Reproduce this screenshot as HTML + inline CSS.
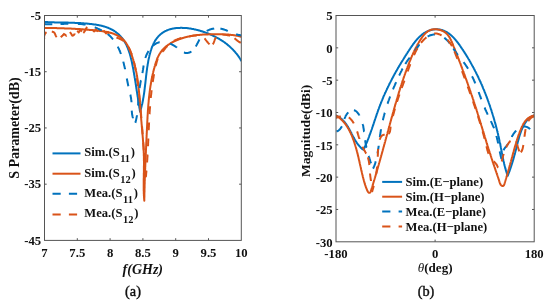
<!DOCTYPE html>
<html><head><meta charset="utf-8"><title>Figure</title>
<style>
html,body{margin:0;padding:0;background:#fff;}
body{width:550px;height:305px;overflow:hidden;}
svg{display:block;}
text{font-family:"Liberation Serif",serif;fill:#111;}
.t{font-weight:bold;font-size:12.7px;}
.l{font-weight:bold;font-size:14px;}
.g{font-weight:bold;font-size:12.6px;}
.s{font-weight:bold;font-size:10.4px;}
.c{font-size:14.3px;fill:#111;stroke:#111;stroke-width:0.4px;}
</style></head><body>
<svg width="550" height="305" viewBox="0 0 550 305">
<rect width="550" height="305" fill="#fff"/>

<clipPath id="cl"><rect x="44.5" y="15.5" width="196.8" height="224.9"/></clipPath>
<g clip-path="url(#cl)">
<path d="M44.5,22.0 L45.0,22.0 L45.5,22.0 L46.0,22.1 L46.5,22.1 L47.0,22.1 L47.5,22.1 L48.0,22.2 L48.5,22.2 L49.0,22.2 L49.6,22.2 L50.1,22.2 L50.6,22.2 L51.1,22.3 L51.6,22.3 L52.1,22.3 L52.6,22.3 L53.1,22.3 L53.6,22.3 L54.1,22.3 L54.6,22.4 L55.1,22.4 L55.6,22.4 L56.1,22.4 L56.6,22.4 L57.1,22.4 L57.6,22.4 L58.1,22.4 L58.6,22.4 L59.1,22.4 L59.6,22.5 L60.1,22.5 L60.6,22.5 L61.1,22.5 L61.6,22.5 L62.1,22.5 L62.6,22.5 L63.1,22.5 L63.6,22.5 L64.1,22.5 L64.6,22.6 L65.1,22.6 L65.6,22.6 L66.1,22.6 L66.5,22.6 L67.0,22.6 L67.5,22.6 L68.0,22.6 L68.5,22.7 L69.0,22.7 L69.5,22.7 L70.0,22.7 L70.5,22.7 L71.0,22.7 L71.5,22.7 L72.0,22.8 L72.5,22.8 L73.0,22.8 L73.5,22.8 L74.0,22.8 L74.5,22.8 L75.0,22.9 L75.5,22.9 L76.0,22.9 L76.5,22.9 L77.0,22.9 L77.5,23.0 L78.0,23.0 L78.5,23.0 L79.0,23.0 L79.5,23.1 L80.0,23.1 L80.5,23.1 L81.0,23.2 L81.5,23.2 L82.0,23.2 L82.5,23.3 L83.0,23.3 L83.6,23.3 L84.1,23.4 L84.6,23.4 L85.1,23.5 L85.6,23.5 L86.1,23.5 L86.6,23.6 L87.1,23.6 L87.6,23.7 L88.1,23.7 L88.6,23.8 L89.1,23.8 L89.6,23.9 L90.1,23.9 L90.6,24.0 L91.2,24.0 L91.7,24.1 L92.2,24.2 L92.7,24.2 L93.2,24.3 L93.7,24.4 L94.2,24.4 L94.7,24.5 L95.2,24.6 L95.7,24.6 L96.2,24.7 L96.8,24.8 L97.3,24.9 L97.8,25.0 L98.3,25.1 L98.8,25.2 L99.3,25.3 L99.8,25.4 L100.3,25.5 L100.8,25.6 L101.3,25.7 L101.8,25.8 L102.3,26.0 L102.7,26.1 L103.2,26.2 L103.7,26.4 L104.2,26.5 L104.7,26.6 L105.2,26.8 L105.7,26.9 L106.1,27.1 L106.6,27.3 L107.1,27.4 L107.5,27.6 L108.0,27.8 L108.5,28.0 L108.9,28.2 L109.4,28.4 L109.8,28.6 L110.3,28.8 L110.7,29.0 L111.2,29.2 L111.6,29.5 L112.1,29.7 L112.5,29.9 L112.9,30.2 L113.3,30.4 L113.8,30.7 L114.2,31.0 L114.6,31.2 L115.0,31.5 L115.4,31.8 L115.8,32.1 L116.2,32.4 L116.6,32.7 L117.0,33.0 L117.3,33.3 L117.7,33.6 L118.1,33.9 L118.5,34.3 L118.8,34.6 L119.2,34.9 L119.5,35.3 L119.9,35.6 L120.2,36.0 L120.6,36.3 L120.9,36.7 L121.2,37.1 L121.5,37.4 L121.9,37.8 L122.2,38.2 L122.5,38.6 L122.8,39.0 L123.1,39.4 L123.4,39.8 L123.6,40.2 L123.9,40.6 L124.2,41.0 L124.4,41.4 L124.7,41.9 L125.0,42.3 L125.2,42.7 L125.4,43.2 L125.7,43.6 L125.9,44.0 L126.1,44.5 L126.4,44.9 L126.6,45.4 L126.8,45.8 L127.0,46.3 L127.2,46.8 L127.4,47.2 L127.6,47.7 L127.8,48.2 L128.0,48.6 L128.1,49.1 L128.3,49.6 L128.5,50.1 L128.7,50.5 L128.8,51.0 L129.0,51.5 L129.1,52.0 L129.3,52.5 L129.5,52.9 L129.6,53.4 L129.8,53.9 L129.9,54.4 L130.0,54.9 L130.2,55.4 L130.3,55.9 L130.5,56.4 L130.6,56.9 L130.7,57.3 L130.8,57.8 L131.0,58.3 L131.1,58.8 L131.2,59.3 L131.3,59.8 L131.5,60.3 L131.6,60.8 L131.7,61.3 L131.8,61.8 L131.9,62.3 L132.0,62.8 L132.1,63.3 L132.2,63.8 L132.3,64.3 L132.4,64.8 L132.5,65.3 L132.6,65.8 L132.7,66.3 L132.8,66.7 L132.9,67.2 L133.0,67.7 L133.1,68.2 L133.2,68.7 L133.3,69.2 L133.4,69.7 L133.5,70.2 L133.5,70.7 L133.6,71.2 L133.7,71.7 L133.8,72.2 L133.9,72.7 L134.0,73.2 L134.1,73.7 L134.1,74.2 L134.2,74.7 L134.3,75.2 L134.4,75.7 L134.5,76.2 L134.6,76.7 L134.6,77.2 L134.7,77.7 L134.8,78.1 L134.9,78.6 L135.0,79.1 L135.0,79.6 L135.1,80.1 L135.2,80.6 L135.3,81.1 L135.4,81.6 L135.4,82.1 L135.5,82.6 L135.6,83.1 L135.7,83.6 L135.7,84.1 L135.8,84.6 L135.9,85.1 L136.0,85.5 L136.0,86.0 L136.1,86.5 L136.2,87.0 L136.3,87.5 L136.3,88.0 L136.4,88.5 L136.5,89.0 L136.6,89.5 L136.6,90.0 L136.7,90.5 L136.8,91.0 L136.9,91.5 L136.9,91.9 L137.0,92.4 L137.1,92.9 L137.2,93.4 L137.2,93.9 L137.3,94.4 L137.4,94.9 L137.5,95.4 L137.5,95.9 L137.6,96.4 L137.7,96.9 L137.8,97.4 L137.9,97.9 L137.9,98.4 L138.0,98.9 L138.1,99.4 L138.2,99.8 L138.2,100.3 L138.3,100.8 L138.4,101.3 L138.5,101.8 L138.5,102.3 L138.6,102.8 L138.7,103.3 L138.8,103.8 L138.9,104.3 L138.9,104.8 L139.0,105.3 L139.1,105.8 L139.2,106.3 L139.3,106.8 L139.3,107.3 L139.4,107.8 L139.5,108.3 L139.6,108.8 L139.7,109.3 L139.8,109.8 L139.8,110.3 L139.9,110.8 L140.0,111.3 L140.1,111.8 L140.3,111.3 L140.4,110.8 L140.5,110.3 L140.7,109.8 L140.8,109.3 L141.0,108.9 L141.1,108.4 L141.2,107.9 L141.3,107.4 L141.5,106.9 L141.6,106.4 L141.7,105.9 L141.8,105.4 L141.9,104.9 L142.1,104.4 L142.2,104.0 L142.3,103.5 L142.4,103.0 L142.5,102.5 L142.6,102.0 L142.7,101.5 L142.8,101.0 L142.9,100.5 L143.0,100.0 L143.1,99.5 L143.1,99.1 L143.2,98.6 L143.3,98.1 L143.4,97.6 L143.5,97.1 L143.6,96.6 L143.6,96.1 L143.7,95.6 L143.8,95.1 L143.9,94.6 L143.9,94.2 L144.0,93.7 L144.1,93.2 L144.2,92.7 L144.2,92.2 L144.3,91.7 L144.4,91.2 L144.4,90.7 L144.5,90.2 L144.5,89.7 L144.6,89.2 L144.7,88.7 L144.7,88.3 L144.8,87.8 L144.8,87.3 L144.9,86.8 L145.0,86.3 L145.0,85.8 L145.1,85.3 L145.1,84.8 L145.2,84.3 L145.3,83.8 L145.3,83.3 L145.4,82.8 L145.4,82.3 L145.5,81.9 L145.5,81.4 L145.6,80.9 L145.6,80.4 L145.7,79.9 L145.8,79.4 L145.8,78.9 L145.9,78.4 L145.9,77.9 L146.0,77.4 L146.0,76.9 L146.1,76.4 L146.1,75.9 L146.2,75.4 L146.3,74.9 L146.3,74.4 L146.4,73.9 L146.4,73.4 L146.5,72.9 L146.6,72.4 L146.6,71.9 L146.7,71.4 L146.8,70.9 L146.8,70.4 L146.9,69.9 L147.0,69.4 L147.0,68.9 L147.1,68.4 L147.2,67.9 L147.2,67.4 L147.3,66.9 L147.4,66.4 L147.5,65.9 L147.6,65.4 L147.6,64.9 L147.7,64.4 L147.8,63.9 L147.9,63.4 L148.0,62.9 L148.1,62.4 L148.2,61.9 L148.2,61.4 L148.3,60.9 L148.4,60.4 L148.5,59.9 L148.6,59.4 L148.7,58.9 L148.8,58.4 L149.0,57.9 L149.1,57.4 L149.2,56.9 L149.3,56.3 L149.4,55.8 L149.5,55.3 L149.6,54.8 L149.8,54.3 L149.9,53.8 L150.0,53.3 L150.2,52.8 L150.3,52.3 L150.5,51.8 L150.6,51.3 L150.7,50.8 L150.9,50.3 L151.1,49.8 L151.2,49.4 L151.4,48.9 L151.6,48.4 L151.7,47.9 L151.9,47.4 L152.1,46.9 L152.3,46.5 L152.5,46.0 L152.7,45.5 L152.9,45.1 L153.1,44.6 L153.3,44.1 L153.5,43.7 L153.7,43.2 L154.0,42.8 L154.2,42.4 L154.4,41.9 L154.7,41.5 L154.9,41.1 L155.2,40.6 L155.5,40.2 L155.7,39.8 L156.0,39.4 L156.3,39.0 L156.6,38.6 L156.9,38.2 L157.2,37.8 L157.5,37.4 L157.8,37.1 L158.1,36.7 L158.4,36.3 L158.8,36.0 L159.1,35.6 L159.5,35.3 L159.8,35.0 L160.2,34.6 L160.5,34.3 L160.9,34.0 L161.3,33.7 L161.7,33.4 L162.1,33.1 L162.5,32.8 L162.9,32.5 L163.3,32.3 L163.7,32.0 L164.1,31.8 L164.5,31.5 L164.9,31.3 L165.4,31.1 L165.8,30.9 L166.3,30.7 L166.7,30.5 L167.2,30.3 L167.6,30.1 L168.1,29.9 L168.5,29.8 L169.0,29.6 L169.5,29.4 L169.9,29.3 L170.4,29.2 L170.9,29.0 L171.4,28.9 L171.9,28.8 L172.4,28.7 L172.9,28.6 L173.4,28.5 L173.9,28.4 L174.4,28.3 L174.9,28.3 L175.4,28.2 L175.9,28.1 L176.4,28.1 L176.9,28.0 L177.4,28.0 L177.9,27.9 L178.4,27.9 L178.9,27.9 L179.4,27.9 L180.0,27.9 L180.5,27.8 L181.0,27.8 L181.5,27.8 L182.0,27.8 L182.5,27.9 L183.0,27.9 L183.5,27.9 L184.0,27.9 L184.6,27.9 L185.1,28.0 L185.6,28.0 L186.1,28.0 L186.6,28.1 L187.1,28.1 L187.6,28.2 L188.1,28.3 L188.6,28.3 L189.1,28.4 L189.6,28.5 L190.1,28.5 L190.6,28.6 L191.1,28.7 L191.6,28.8 L192.1,28.9 L192.6,29.0 L193.1,29.0 L193.6,29.1 L194.1,29.3 L194.6,29.4 L195.1,29.5 L195.6,29.6 L196.1,29.7 L196.5,29.8 L197.0,29.9 L197.5,30.1 L198.0,30.2 L198.5,30.3 L199.0,30.5 L199.5,30.6 L200.0,30.7 L200.4,30.9 L200.9,31.0 L201.4,31.2 L201.9,31.3 L202.4,31.5 L202.9,31.6 L203.3,31.8 L203.8,32.0 L204.3,32.1 L204.8,32.3 L205.3,32.5 L205.7,32.6 L206.2,32.8 L206.7,33.0 L207.1,33.2 L207.6,33.3 L208.1,33.5 L208.6,33.7 L209.0,33.9 L209.5,34.1 L210.0,34.3 L210.4,34.5 L210.9,34.7 L211.3,34.9 L211.8,35.1 L212.3,35.3 L212.7,35.5 L213.2,35.7 L213.6,36.0 L214.1,36.2 L214.5,36.4 L215.0,36.6 L215.4,36.9 L215.9,37.1 L216.3,37.3 L216.8,37.6 L217.2,37.8 L217.6,38.0 L218.1,38.3 L218.5,38.5 L218.9,38.8 L219.4,39.0 L219.8,39.3 L220.2,39.6 L220.6,39.8 L221.1,40.1 L221.5,40.4 L221.9,40.6 L222.3,40.9 L222.7,41.2 L223.2,41.5 L223.6,41.7 L224.0,42.0 L224.4,42.3 L224.8,42.6 L225.2,42.9 L225.6,43.2 L226.0,43.5 L226.4,43.8 L226.8,44.1 L227.2,44.4 L227.6,44.7 L227.9,45.1 L228.3,45.4 L228.7,45.7 L229.1,46.0 L229.5,46.3 L229.8,46.7 L230.2,47.0 L230.6,47.4 L230.9,47.7 L231.3,48.0 L231.6,48.4 L232.0,48.7 L232.4,49.1 L232.7,49.4 L233.1,49.8 L233.4,50.2 L233.7,50.5 L234.1,50.9 L234.4,51.3 L234.7,51.6 L235.1,52.0 L235.4,52.4 L235.7,52.8 L236.0,53.2 L236.4,53.5 L236.7,53.9 L237.0,54.3 L237.3,54.7 L237.6,55.1 L237.9,55.5 L238.2,55.9 L238.5,56.4 L238.8,56.8 L239.1,57.2 L239.4,57.6 L239.6,58.0 L239.9,58.5 L240.2,58.9 L240.5,59.3 L240.7,59.8 L241.0,60.2 L241.2,60.7 L241.5,61.1" fill="none" stroke="#0072BD" stroke-width="2.0" stroke-linejoin="round"/>
<path d="M44.5,28.0 L45.0,28.0 L45.5,28.0 L46.0,28.0 L46.5,28.0 L47.0,28.0 L47.5,28.0 L48.1,28.0 L48.6,28.0 L49.1,28.0 L49.6,28.0 L50.1,28.0 L50.6,28.0 L51.1,28.1 L51.6,28.1 L52.1,28.1 L52.6,28.1 L53.1,28.1 L53.6,28.1 L54.1,28.1 L54.6,28.1 L55.1,28.1 L55.6,28.1 L56.1,28.1 L56.6,28.1 L57.1,28.2 L57.6,28.2 L58.1,28.2 L58.6,28.2 L59.1,28.2 L59.6,28.2 L60.1,28.2 L60.6,28.2 L61.1,28.3 L61.6,28.3 L62.1,28.3 L62.6,28.3 L63.1,28.3 L63.6,28.3 L64.1,28.3 L64.6,28.4 L65.1,28.4 L65.6,28.4 L66.1,28.4 L66.6,28.4 L67.1,28.5 L67.6,28.5 L68.1,28.5 L68.6,28.5 L69.1,28.5 L69.6,28.6 L70.1,28.6 L70.6,28.6 L71.1,28.6 L71.6,28.7 L72.1,28.7 L72.6,28.7 L73.1,28.7 L73.6,28.7 L74.1,28.8 L74.6,28.8 L75.1,28.8 L75.6,28.9 L76.1,28.9 L76.6,28.9 L77.1,28.9 L77.5,29.0 L78.0,29.0 L78.5,29.0 L79.0,29.1 L79.5,29.1 L80.0,29.1 L80.5,29.2 L81.0,29.2 L81.5,29.2 L82.0,29.3 L82.5,29.3 L83.0,29.3 L83.5,29.4 L84.0,29.4 L84.5,29.5 L85.0,29.5 L85.5,29.5 L86.0,29.6 L86.5,29.6 L87.0,29.7 L87.5,29.7 L88.0,29.7 L88.5,29.8 L89.0,29.8 L89.5,29.9 L90.0,29.9 L90.5,30.0 L91.0,30.0 L91.5,30.0 L92.0,30.1 L92.5,30.1 L93.0,30.2 L93.5,30.2 L94.0,30.3 L94.5,30.3 L95.0,30.4 L95.5,30.4 L96.0,30.5 L96.5,30.6 L97.0,30.6 L97.5,30.7 L98.1,30.7 L98.6,30.8 L99.1,30.8 L99.6,30.9 L100.1,30.9 L100.6,31.0 L101.1,31.1 L101.6,31.1 L102.1,31.2 L102.6,31.3 L103.1,31.3 L103.6,31.4 L104.1,31.5 L104.6,31.6 L105.1,31.7 L105.6,31.7 L106.1,31.8 L106.6,31.9 L107.1,32.0 L107.6,32.1 L108.1,32.2 L108.6,32.3 L109.1,32.4 L109.6,32.6 L110.1,32.7 L110.5,32.8 L111.0,33.0 L111.5,33.1 L112.0,33.2 L112.5,33.4 L112.9,33.6 L113.4,33.7 L113.9,33.9 L114.4,34.1 L114.8,34.3 L115.3,34.5 L115.7,34.7 L116.2,34.9 L116.6,35.1 L117.1,35.3 L117.5,35.5 L118.0,35.8 L118.4,36.0 L118.8,36.3 L119.3,36.5 L119.7,36.8 L120.1,37.1 L120.5,37.4 L120.9,37.7 L121.3,38.0 L121.7,38.3 L122.1,38.6 L122.5,38.9 L122.8,39.3 L123.2,39.6 L123.5,39.9 L123.9,40.3 L124.2,40.7 L124.5,41.0 L124.9,41.4 L125.2,41.8 L125.5,42.2 L125.7,42.6 L126.0,43.0 L126.3,43.4 L126.6,43.8 L126.8,44.2 L127.1,44.7 L127.3,45.1 L127.6,45.5 L127.8,46.0 L128.1,46.4 L128.3,46.9 L128.5,47.3 L128.7,47.8 L128.9,48.2 L129.1,48.7 L129.3,49.2 L129.5,49.6 L129.7,50.1 L129.9,50.6 L130.1,51.0 L130.3,51.5 L130.5,52.0 L130.7,52.4 L130.9,52.9 L131.0,53.4 L131.2,53.8 L131.4,54.3 L131.6,54.8 L131.7,55.3 L131.9,55.7 L132.1,56.2 L132.2,56.7 L132.4,57.1 L132.6,57.6 L132.7,58.1 L132.9,58.6 L133.0,59.0 L133.2,59.5 L133.3,60.0 L133.4,60.5 L133.6,61.0 L133.7,61.4 L133.9,61.9 L134.0,62.4 L134.1,62.9 L134.3,63.4 L134.4,63.8 L134.5,64.3 L134.6,64.8 L134.8,65.3 L134.9,65.8 L135.0,66.3 L135.1,66.8 L135.2,67.2 L135.3,67.7 L135.5,68.2 L135.6,68.7 L135.7,69.2 L135.8,69.7 L135.9,70.2 L136.0,70.7 L136.1,71.1 L136.2,71.6 L136.3,72.1 L136.4,72.6 L136.5,73.1 L136.6,73.6 L136.7,74.1 L136.7,74.6 L136.8,75.1 L136.9,75.6 L137.0,76.1 L137.1,76.5 L137.2,77.0 L137.2,77.5 L137.3,78.0 L137.4,78.5 L137.5,79.0 L137.5,79.5 L137.6,80.0 L137.7,80.5 L137.8,81.0 L137.8,81.5 L137.9,82.0 L138.0,82.5 L138.0,83.0 L138.1,83.5 L138.2,84.0 L138.2,84.5 L138.3,85.0 L138.3,85.5 L138.4,86.0 L138.5,86.5 L138.5,87.0 L138.6,87.5 L138.6,88.0 L138.7,88.5 L138.7,89.0 L138.8,89.5 L138.8,90.0 L138.9,90.5 L138.9,91.0 L139.0,91.5 L139.0,92.0 L139.1,92.5 L139.1,93.0 L139.2,93.5 L139.2,94.0 L139.3,94.5 L139.3,95.0 L139.4,95.5 L139.4,96.0 L139.5,96.5 L139.5,97.0 L139.5,97.5 L139.6,98.0 L139.6,98.5 L139.7,99.0 L139.7,99.5 L139.7,100.0 L139.8,100.5 L139.8,101.0 L139.9,101.5 L139.9,102.0 L139.9,102.5 L140.0,103.0 L140.0,103.5 L140.0,104.1 L140.1,104.6 L140.1,105.1 L140.2,105.6 L140.2,106.1 L140.2,106.6 L140.3,107.1 L140.3,107.6 L140.3,108.1 L140.4,108.6 L140.4,109.1 L140.5,109.6 L140.5,110.1 L140.5,110.6 L140.6,111.1 L140.6,111.6 L140.6,112.1 L140.7,112.6 L140.7,113.1 L140.8,113.6 L140.8,114.1 L140.8,114.6 L140.9,115.1 L140.9,115.6 L141.0,116.1 L141.0,116.6 L141.0,117.1 L141.1,117.6 L141.1,118.1 L141.2,118.6 L141.2,119.1 L141.2,119.6 L141.3,120.1 L141.3,120.6 L141.4,121.1 L141.4,121.6 L141.5,122.1 L141.5,122.6 L141.5,123.1 L141.6,123.6 L141.6,124.1 L141.7,124.6 L141.7,125.1 L141.8,125.6 L141.8,126.1 L141.8,126.6 L141.9,127.1 L141.9,127.6 L142.0,128.1 L142.0,128.6 L142.1,129.1 L142.1,129.6 L142.2,130.1 L142.2,130.6 L142.2,131.1 L142.3,131.6 L142.3,132.1 L142.4,132.6 L142.4,133.1 L142.5,133.6 L142.5,134.1 L142.5,134.6 L142.6,135.1 L142.6,135.6 L142.7,136.0 L142.7,136.5 L142.7,137.0 L142.8,137.5 L142.8,138.0 L142.9,138.5 L142.9,139.0 L142.9,139.5 L143.0,140.0 L143.0,140.5 L143.0,141.0 L143.1,141.5 L143.1,142.0 L143.2,142.5 L143.2,143.0 L143.2,143.5 L143.3,144.0 L143.3,144.5 L143.3,145.0 L143.4,145.5 L143.4,146.0 L143.4,146.5 L143.5,147.0 L143.5,147.5 L143.5,148.0 L143.5,148.5 L143.6,149.0 L143.6,149.5 L143.6,150.0 L143.6,150.5 L143.7,151.0 L143.7,151.5 L143.7,152.0 L143.7,152.5 L143.8,153.0 L143.8,153.5 L143.8,154.0 L143.8,154.5 L143.8,155.0 L143.8,155.5 L143.9,156.0 L143.9,156.5 L143.9,157.0 L143.9,157.5 L143.9,158.0 L143.9,158.5 L143.9,159.0 L143.9,159.5 L143.9,160.0 L143.9,160.5 L144.0,161.0 L144.0,161.5 L144.0,162.0 L144.0,162.5 L144.0,163.0 L144.0,163.5 L144.0,164.0 L144.0,164.5 L144.0,165.0 L144.0,165.5 L143.9,166.0 L143.9,166.5 L143.9,167.0 L143.9,167.5 L143.9,168.0 L143.9,168.5 L143.9,169.1 L143.9,169.6 L143.9,170.1 L143.9,170.6 L143.9,171.1 L143.9,171.6 L143.9,172.1 L143.9,172.6 L143.8,173.1 L143.8,173.6 L143.8,174.1 L143.8,174.6 L143.8,175.1 L143.8,175.6 L143.8,176.1 L143.8,176.6 L143.8,177.1 L143.8,177.6 L143.8,178.1 L143.7,178.6 L143.7,179.1 L143.7,179.6 L143.7,180.2 L143.7,180.7 L143.7,181.2 L143.7,181.7 L143.7,182.2 L143.7,182.7 L143.7,183.2 L143.7,183.7 L143.7,184.2 L143.7,184.7 L143.7,185.2 L143.7,185.7 L143.7,186.2 L143.7,186.7 L143.7,187.2 L143.7,187.7 L143.7,188.2 L143.7,188.7 L143.7,189.2 L143.7,189.7 L143.7,190.2 L143.7,190.7 L143.8,191.2 L143.8,191.7 L143.8,192.2 L143.8,192.7 L143.8,193.2 L143.8,193.7 L143.9,194.2 L143.9,194.7 L143.9,195.2 L143.9,195.7 L144.0,196.2 L144.0,196.7 L144.0,197.2 L144.1,197.7 L144.1,198.2 L144.1,198.7 L144.2,199.2 L144.2,199.7 L144.3,200.2 L144.3,200.7 L144.3,200.2 L144.3,199.7 L144.3,199.2 L144.3,198.7 L144.3,198.2 L144.3,197.7 L144.4,197.2 L144.4,196.7 L144.4,196.2 L144.4,195.7 L144.4,195.2 L144.4,194.7 L144.4,194.2 L144.4,193.6 L144.4,193.1 L144.4,192.6 L144.5,192.1 L144.5,191.6 L144.5,191.1 L144.5,190.6 L144.5,190.1 L144.5,189.6 L144.5,189.1 L144.5,188.6 L144.6,188.1 L144.6,187.6 L144.6,187.1 L144.6,186.6 L144.6,186.1 L144.6,185.6 L144.6,185.1 L144.6,184.6 L144.7,184.1 L144.7,183.6 L144.7,183.1 L144.7,182.6 L144.7,182.1 L144.7,181.6 L144.7,181.1 L144.8,180.6 L144.8,180.1 L144.8,179.6 L144.8,179.1 L144.8,178.6 L144.8,178.1 L144.9,177.6 L144.9,177.1 L144.9,176.6 L144.9,176.1 L144.9,175.6 L144.9,175.1 L145.0,174.6 L145.0,174.1 L145.0,173.6 L145.0,173.1 L145.0,172.6 L145.1,172.1 L145.1,171.6 L145.1,171.1 L145.1,170.6 L145.1,170.1 L145.1,169.6 L145.2,169.1 L145.2,168.6 L145.2,168.1 L145.2,167.6 L145.2,167.1 L145.3,166.6 L145.3,166.1 L145.3,165.6 L145.3,165.1 L145.3,164.6 L145.4,164.1 L145.4,163.6 L145.4,163.1 L145.4,162.6 L145.4,162.1 L145.5,161.6 L145.5,161.1 L145.5,160.6 L145.5,160.1 L145.5,159.6 L145.6,159.1 L145.6,158.6 L145.6,158.1 L145.6,157.6 L145.7,157.1 L145.7,156.6 L145.7,156.1 L145.7,155.6 L145.7,155.1 L145.8,154.6 L145.8,154.1 L145.8,153.6 L145.8,153.1 L145.9,152.6 L145.9,152.1 L145.9,151.6 L145.9,151.1 L145.9,150.6 L146.0,150.1 L146.0,149.6 L146.0,149.1 L146.0,148.6 L146.1,148.1 L146.1,147.6 L146.1,147.1 L146.1,146.6 L146.1,146.1 L146.2,145.6 L146.2,145.1 L146.2,144.6 L146.2,144.0 L146.3,143.5 L146.3,143.0 L146.3,142.5 L146.3,142.0 L146.4,141.5 L146.4,141.0 L146.4,140.5 L146.4,140.0 L146.5,139.5 L146.5,139.0 L146.5,138.5 L146.5,138.0 L146.5,137.5 L146.6,137.0 L146.6,136.5 L146.6,136.0 L146.6,135.5 L146.7,135.0 L146.7,134.5 L146.7,134.0 L146.7,133.5 L146.8,133.0 L146.8,132.5 L146.8,132.0 L146.8,131.5 L146.9,131.0 L146.9,130.5 L146.9,130.0 L146.9,129.5 L146.9,129.0 L147.0,128.5 L147.0,128.0 L147.0,127.5 L147.0,127.0 L147.1,126.5 L147.1,126.0 L147.1,125.5 L147.1,125.0 L147.2,124.5 L147.2,124.0 L147.2,123.5 L147.2,123.0 L147.3,122.5 L147.3,122.0 L147.3,121.5 L147.3,121.0 L147.4,120.5 L147.4,120.0 L147.4,119.5 L147.4,119.0 L147.5,118.5 L147.5,117.9 L147.5,117.4 L147.5,116.9 L147.6,116.4 L147.6,115.9 L147.6,115.4 L147.7,114.9 L147.7,114.4 L147.7,113.9 L147.8,113.4 L147.8,112.9 L147.8,112.4 L147.8,111.9 L147.9,111.4 L147.9,110.9 L147.9,110.4 L148.0,109.9 L148.0,109.4 L148.0,108.9 L148.1,108.4 L148.1,107.9 L148.2,107.4 L148.2,106.9 L148.2,106.4 L148.3,105.9 L148.3,105.4 L148.3,104.9 L148.4,104.4 L148.4,103.9 L148.5,103.4 L148.5,102.9 L148.6,102.4 L148.6,101.9 L148.7,101.4 L148.7,100.9 L148.7,100.4 L148.8,99.9 L148.8,99.4 L148.9,98.9 L148.9,98.4 L149.0,97.9 L149.0,97.4 L149.1,96.9 L149.1,96.4 L149.2,95.9 L149.3,95.4 L149.3,94.9 L149.4,94.4 L149.4,93.9 L149.5,93.4 L149.6,92.9 L149.6,92.4 L149.7,91.9 L149.7,91.4 L149.8,90.9 L149.9,90.4 L149.9,89.9 L150.0,89.4 L150.1,88.9 L150.1,88.4 L150.2,87.9 L150.3,87.4 L150.4,86.9 L150.4,86.4 L150.5,85.9 L150.6,85.4 L150.7,84.9 L150.8,84.5 L150.8,84.0 L150.9,83.5 L151.0,83.0 L151.1,82.5 L151.2,82.0 L151.3,81.5 L151.3,81.0 L151.4,80.5 L151.5,80.0 L151.6,79.5 L151.7,79.0 L151.8,78.5 L151.9,78.0 L152.0,77.5 L152.1,77.1 L152.2,76.6 L152.3,76.1 L152.4,75.6 L152.5,75.1 L152.6,74.6 L152.7,74.1 L152.9,73.6 L153.0,73.1 L153.1,72.6 L153.2,72.2 L153.3,71.7 L153.4,71.2 L153.6,70.7 L153.7,70.2 L153.8,69.7 L153.9,69.2 L154.1,68.8 L154.2,68.3 L154.3,67.8 L154.5,67.3 L154.6,66.8 L154.7,66.3 L154.9,65.8 L155.0,65.4 L155.1,64.9 L155.3,64.4 L155.4,63.9 L155.6,63.4 L155.7,62.9 L155.9,62.5 L156.0,62.0 L156.2,61.5 L156.4,61.0 L156.5,60.6 L156.7,60.1 L156.9,59.6 L157.1,59.2 L157.2,58.7 L157.4,58.2 L157.6,57.8 L157.8,57.3 L158.0,56.9 L158.2,56.4 L158.5,56.0 L158.7,55.5 L158.9,55.1 L159.1,54.7 L159.4,54.2 L159.6,53.8 L159.9,53.4 L160.2,53.0 L160.4,52.6 L160.7,52.2 L161.0,51.8 L161.3,51.4 L161.6,51.0 L161.9,50.6 L162.2,50.2 L162.5,49.8 L162.9,49.5 L163.2,49.1 L163.5,48.8 L163.9,48.4 L164.2,48.1 L164.6,47.7 L165.0,47.4 L165.4,47.1 L165.7,46.7 L166.1,46.4 L166.5,46.1 L166.9,45.8 L167.3,45.5 L167.7,45.2 L168.1,44.9 L168.5,44.6 L169.0,44.3 L169.4,44.1 L169.8,43.8 L170.2,43.5 L170.7,43.2 L171.1,43.0 L171.6,42.7 L172.0,42.5 L172.4,42.2 L172.9,42.0 L173.4,41.8 L173.8,41.5 L174.3,41.3 L174.7,41.1 L175.2,40.9 L175.7,40.7 L176.1,40.5 L176.6,40.3 L177.1,40.1 L177.5,39.9 L178.0,39.7 L178.5,39.5 L179.0,39.3 L179.4,39.1 L179.9,39.0 L180.4,38.8 L180.9,38.6 L181.4,38.5 L181.8,38.3 L182.3,38.2 L182.8,38.0 L183.3,37.9 L183.8,37.7 L184.3,37.6 L184.7,37.4 L185.2,37.3 L185.7,37.2 L186.2,37.1 L186.7,36.9 L187.2,36.8 L187.7,36.7 L188.2,36.6 L188.6,36.5 L189.1,36.4 L189.6,36.3 L190.1,36.2 L190.6,36.1 L191.1,36.0 L191.6,35.9 L192.1,35.8 L192.6,35.7 L193.1,35.7 L193.6,35.6 L194.1,35.5 L194.6,35.4 L195.1,35.4 L195.6,35.3 L196.0,35.2 L196.5,35.2 L197.0,35.1 L197.5,35.1 L198.0,35.0 L198.5,35.0 L199.0,34.9 L199.5,34.9 L200.0,34.8 L200.5,34.8 L201.0,34.7 L201.5,34.7 L202.0,34.7 L202.5,34.6 L203.0,34.6 L203.5,34.6 L204.0,34.5 L204.5,34.5 L205.0,34.5 L205.6,34.4 L206.1,34.4 L206.6,34.4 L207.1,34.4 L207.6,34.4 L208.1,34.4 L208.6,34.3 L209.1,34.3 L209.6,34.3 L210.1,34.3 L210.6,34.3 L211.1,34.3 L211.6,34.3 L212.1,34.3 L212.6,34.3 L213.1,34.3 L213.6,34.3 L214.1,34.3 L214.6,34.3 L215.1,34.3 L215.6,34.3 L216.1,34.3 L216.6,34.3 L217.1,34.3 L217.6,34.3 L218.1,34.3 L218.6,34.3 L219.1,34.3 L219.6,34.3 L220.1,34.3 L220.6,34.3 L221.1,34.3 L221.6,34.3 L222.1,34.3 L222.6,34.3 L223.1,34.4 L223.6,34.4 L224.1,34.4 L224.6,34.4 L225.1,34.4 L225.6,34.5 L226.1,34.5 L226.6,34.5 L227.1,34.5 L227.6,34.6 L228.1,34.6 L228.6,34.6 L229.1,34.7 L229.6,34.7 L230.1,34.8 L230.6,34.8 L231.1,34.9 L231.6,34.9 L232.1,35.0 L232.6,35.0 L233.1,35.1 L233.6,35.2 L234.1,35.2 L234.6,35.3 L235.1,35.4 L235.6,35.5 L236.1,35.6 L236.6,35.7 L237.1,35.7 L237.6,35.8 L238.1,35.9 L238.6,36.1 L239.0,36.2 L239.5,36.3 L240.0,36.4 L240.5,36.5 L241.0,36.7 L241.5,36.8" fill="none" stroke="#D95319" stroke-width="2.0" stroke-linejoin="round"/>
<path d="M44.5,24.1 L45.0,24.1 L45.5,24.2 L46.0,24.2 L46.5,24.2 L47.0,24.2 L47.5,24.2 L48.0,24.3 L48.5,24.3 L49.0,24.3 L49.5,24.3 L49.9,24.3 L50.4,24.3 L50.9,24.3 L51.4,24.3 L51.9,24.3 L52.3,24.3M60.5,24.0 L61.0,24.0 L61.5,24.0 L62.0,23.9 L62.5,23.9 L63.1,23.9 L63.6,23.9 L64.1,23.8 L64.6,23.8 L65.1,23.8 L65.6,23.8 L66.1,23.8 L66.6,23.7 L67.1,23.7 L67.6,23.7 L68.1,23.7 L68.3,23.7M77.8,23.8 L78.2,23.8 L78.7,23.9 L79.2,23.9 L79.7,23.9 L80.2,24.0 L80.7,24.0 L81.2,24.1 L81.7,24.1 L82.1,24.2 L82.6,24.2 L83.1,24.3 L83.6,24.4 L84.1,24.5 L84.6,24.5 L85.1,24.6 L85.5,24.7M94.7,27.4 L95.1,27.5 L95.6,27.7 L96.1,27.9 L96.5,28.1 L97.0,28.3 L97.5,28.5 L97.9,28.7 L98.4,28.9 L98.8,29.1 L99.3,29.3 L99.8,29.5 L100.2,29.7 L100.7,29.9 L101.2,30.1 L101.6,30.3 L101.8,30.4M107.6,33.9 L108.0,34.2 L108.4,34.6 L108.8,34.9 L109.2,35.2 L109.5,35.6 L109.9,35.9 L110.3,36.3 L110.6,36.6 L111.0,37.0 L111.3,37.4 L111.6,37.7 L112.0,38.1 L112.3,38.5 L112.6,38.9 L113.0,39.3 L113.1,39.4M117.8,46.7 L118.0,47.2 L118.3,47.6 L118.5,48.1 L118.7,48.5 L118.9,49.0 L119.1,49.4 L119.3,49.9 L119.5,50.3 L119.7,50.8 L119.9,51.2 L120.1,51.7 L120.3,52.1 L120.4,52.6 L120.6,53.1 L120.8,53.5 L120.9,53.9M123.3,61.6 L123.4,62.1 L123.5,62.6 L123.7,63.1 L123.8,63.6 L123.9,64.1 L124.0,64.6 L124.1,65.1 L124.2,65.6 L124.4,66.1 L124.5,66.6 L124.6,67.1 L124.7,67.6 L124.8,68.1 L124.9,68.6 L125.0,69.0 L125.0,69.2M126.8,78.5 L126.9,79.0 L127.0,79.5 L127.1,80.0 L127.2,80.5 L127.3,81.0 L127.4,81.5 L127.5,82.0 L127.6,82.5 L127.7,83.0 L127.8,83.5 L127.9,84.0 L128.0,84.5 L128.1,85.0 L128.2,85.5 L128.3,85.9 L128.4,86.2M130.3,94.6 L130.5,95.1 L130.6,95.6 L130.6,96.1 L130.7,96.5 L130.8,97.0 L130.9,97.5 L131.0,98.0 L131.1,98.5 L131.1,99.0 L131.2,99.5 L131.3,99.9 L131.3,100.4 L131.4,100.9 L131.4,101.4 L131.5,101.9 L131.5,102.3M131.7,110.6 L131.8,111.1 L131.8,111.6 L131.9,112.1 L131.9,112.6 L132.0,113.2 L132.0,113.7 L132.1,114.2 L132.2,114.7 L132.3,115.2 L132.4,115.7 L132.5,116.2 L132.6,116.7 L132.7,117.1 L132.8,117.6 L133.0,118.1 L133.0,118.3M135.3,122.8 L135.5,122.3 L135.6,121.8 L135.7,121.3 L135.9,120.9 L136.0,120.4 L136.1,119.9 L136.2,119.4 L136.3,118.9 L136.4,118.4 L136.5,117.9 L136.6,117.4 L136.7,116.9 L136.8,116.4 L136.9,115.9 L137.0,115.4 L137.0,115.2M138.1,105.5 L138.1,105.0 L138.1,104.5 L138.2,104.0 L138.2,103.5 L138.2,103.0 L138.3,102.5 L138.3,102.0 L138.3,101.5 L138.4,101.0 L138.4,100.5 L138.4,100.0 L138.5,99.5 L138.5,99.0 L138.5,98.5 L138.6,98.0 L138.6,97.7M139.6,88.0 L139.7,87.5 L139.7,87.0 L139.8,86.5 L139.9,86.0 L140.0,85.5 L140.1,85.0 L140.2,84.5 L140.3,84.0 L140.3,83.5 L140.4,83.0 L140.5,82.5 L140.6,82.0 L140.7,81.5 L140.8,81.0 L140.9,80.5 L141.0,80.3M142.4,73.1 L142.5,72.6 L142.6,72.1 L142.7,71.6 L142.8,71.1 L142.8,70.6 L142.9,70.1 L143.0,69.7 L143.1,69.2 L143.1,68.7 L143.2,68.2 L143.3,67.7 L143.4,67.2 L143.4,66.7 L143.5,66.2 L143.6,65.8 L143.7,65.4M145.3,58.0 L145.5,57.5 L145.7,57.0 L145.9,56.6 L146.0,56.1 L146.2,55.6 L146.4,55.1 L146.6,54.6 L146.9,54.2 L147.1,53.7 L147.3,53.2 L147.6,52.8 L147.8,52.3 L148.1,51.8 L148.4,51.4 L148.6,51.0M152.9,45.8 L153.2,45.5 L153.6,45.2 L154.0,44.8 L154.4,44.6 L154.8,44.3 L155.2,44.0 L155.6,43.8 L156.0,43.5 L156.4,43.3 L156.9,43.1 L157.3,42.9 L157.7,42.8 L158.2,42.6 L158.6,42.5 L159.1,42.3 L159.5,42.2 L159.7,42.2M170.2,43.6 L170.7,43.8 L171.1,44.0 L171.6,44.3 L172.1,44.5 L172.6,44.8 L173.0,45.0 L173.5,45.3 L173.9,45.5 L174.4,45.8 L174.8,46.1 L175.3,46.4 L175.7,46.7 L176.1,47.0 L176.6,47.3 L176.9,47.6M183.9,52.5 L184.4,52.6 L184.8,52.8 L185.3,52.9 L185.7,52.9 L186.2,53.0 L186.7,53.0 L187.1,53.0 L187.6,52.9 L188.1,52.9 L188.5,52.8 L189.0,52.7 L189.4,52.5 L189.9,52.4 L190.3,52.2 L190.7,51.9 L191.1,51.7 L191.4,51.5M195.8,46.4 L196.1,45.9 L196.4,45.5 L196.6,45.0 L196.9,44.5 L197.1,44.1 L197.4,43.6 L197.6,43.1 L197.9,42.7 L198.1,42.2 L198.3,41.7 L198.6,41.2 L198.8,40.8 L199.0,40.3 L199.3,39.8 L199.4,39.5M206.8,31.0 L207.2,30.7 L207.7,30.5 L208.1,30.3 L208.6,30.1 L209.0,29.9 L209.5,29.7 L209.9,29.5 L210.4,29.4 L210.9,29.2 L211.4,29.1 L211.9,29.0 L212.4,28.8 L212.9,28.7 L213.3,28.7 L213.9,28.6 L214.2,28.5M220.4,28.6 L220.9,28.7 L221.4,28.8 L221.9,28.9 L222.4,29.0 L222.9,29.2 L223.3,29.3 L223.8,29.5 L224.3,29.6 L224.8,29.8 L225.3,29.9 L225.7,30.1 L226.2,30.3 L226.7,30.5 L227.1,30.7 L227.6,30.9 L227.8,31.0M236.1,34.2 L236.6,34.4 L237.0,34.5 L237.5,34.7 L238.0,34.8 L238.5,34.9 L239.0,35.0 L239.5,35.1 L240.0,35.2 L240.5,35.2 L241.0,35.3 L241.5,35.3" fill="none" stroke="#0072BD" stroke-width="2.0" stroke-linejoin="round"/>
<path d="M44.3,39.2 L44.2,38.7 L44.1,38.2 L44.1,37.6 L44.1,37.1 L44.1,36.5 L44.2,36.0 L44.4,35.5 L44.5,35.0 L44.7,34.5 L45.0,34.0 L45.3,33.5 L45.6,33.1 L45.9,32.7 L46.2,32.3 L46.5,32.1M51.8,31.6 L52.3,31.7 L52.8,31.8 L53.2,32.0 L53.6,32.2 L54.0,32.4 L54.3,32.7 L54.6,33.1 L54.8,33.5 L55.0,33.9 L55.2,34.4 L55.4,34.9 L55.6,35.4 L55.9,35.9 L56.1,36.3 L56.4,36.8 L56.7,37.1M60.8,37.2 L61.2,36.8 L61.7,36.4 L62.1,36.0 L62.5,35.6 L62.9,35.2 L63.3,34.8 L63.6,34.4 L63.8,34.1 L64.0,33.9 L64.6,34.4 L65.2,34.8 L65.7,35.2 L66.3,35.7 L66.5,35.5M70.0,32.0 L70.3,32.5 L70.7,33.1 L71.0,33.6 L71.3,34.1 L71.6,34.6 L72.0,35.2 L72.3,35.7 L72.9,35.6 L73.4,35.3 L73.9,35.0 L74.2,34.5 L74.5,34.1 L74.7,33.6 L74.7,33.5M77.3,30.7 L77.8,31.3 L78.2,31.9 L78.7,32.5 L79.1,32.0 L79.4,31.4 L79.8,30.9 L80.1,30.3 L80.5,29.8 L80.9,30.3 L81.3,30.7 L81.7,31.2 L82.0,31.5M83.3,33.0 L83.7,32.6 L84.0,32.1 L84.4,31.6 L84.7,31.2 L85.0,30.7 L85.3,30.2 L85.6,29.6 L85.8,29.1 L86.1,28.6 L86.3,28.1 L86.5,27.5 L86.8,28.0 L87.2,28.5 L87.3,28.6M92.7,29.9 L92.8,30.0 L93.2,30.5 L93.6,31.0 L94.0,31.5 L94.5,31.0 L95.0,30.5 L95.5,30.0 L96.0,29.5 L96.4,30.0 L96.8,30.4 L97.2,30.9 L97.6,31.3 L97.9,31.7M103.9,31.1 L104.0,31.0 L104.4,31.5 L104.8,32.0 L105.2,32.5 L105.6,33.0 L106.0,33.5 L106.5,33.1 L107.0,32.8 L107.5,32.4 L108.0,32.0 L108.3,32.4 L108.7,32.8 L109.0,33.1 L109.3,33.4M116.5,37.4 L116.8,37.6 L117.3,37.8 L117.8,38.0 L118.2,38.2 L118.7,38.4 L119.2,38.6 L119.6,38.8 L120.1,39.0 L120.5,39.2 L121.0,39.4 L121.4,39.7 L121.8,39.9 L122.2,40.1 L122.7,40.4 L123.1,40.7 L123.5,40.9 L123.5,41.0M128.7,47.3 L128.8,47.4 L129.0,47.8 L129.2,48.3 L129.4,48.8 L129.7,49.2 L129.9,49.7 L130.1,50.2 L130.3,50.6 L130.5,51.1 L130.7,51.6 L130.9,52.0 L131.1,52.5 L131.2,53.0 L131.4,53.5 L131.6,53.9 L131.8,54.4 L131.8,54.5M134.1,62.5 L134.1,62.6 L134.2,63.1 L134.3,63.6 L134.4,64.1 L134.5,64.6 L134.7,65.1 L134.8,65.6 L134.9,66.1 L134.9,66.6 L135.0,67.1 L135.1,67.6 L135.2,68.0 L135.3,68.5 L135.4,69.0 L135.5,69.5 L135.6,70.0 L135.6,70.1M136.9,78.3 L136.9,78.5 L137.0,79.0 L137.1,79.5 L137.2,80.0 L137.2,80.5 L137.3,80.9 L137.4,81.4 L137.4,81.9 L137.5,82.4 L137.6,82.9 L137.7,83.4 L137.7,83.9 L137.8,84.4 L137.9,84.9 L137.9,85.4 L138.0,85.9 L138.0,86.1M139.0,94.3 L139.0,94.4 L139.1,94.9 L139.2,95.4 L139.2,95.9 L139.3,96.4 L139.3,96.9 L139.4,97.4 L139.4,97.9 L139.5,98.4 L139.6,98.9 L139.6,99.4 L139.7,99.9 L139.7,100.4 L139.8,100.9 L139.8,101.4 L139.9,101.9 L139.9,102.1M140.7,110.3 L140.7,110.4 L140.7,110.9 L140.8,111.4 L140.8,111.9 L140.9,112.4 L140.9,112.9 L141.0,113.4 L141.0,113.9 L141.1,114.4 L141.1,114.9 L141.1,115.4 L141.2,115.9 L141.2,116.4 L141.3,116.9 L141.3,117.4 L141.4,117.9 L141.4,118.1M142.0,126.4 L142.0,126.4 L142.1,126.9 L142.1,127.4 L142.2,127.9 L142.2,128.4 L142.2,128.9 L142.3,129.4 L142.3,129.9 L142.4,130.4 L142.4,130.9 L142.4,131.4 L142.5,131.9 L142.5,132.4 L142.5,132.9 L142.6,133.4 L142.6,133.9 L142.6,134.2M143.2,142.5 L143.3,142.9 L143.3,143.4 L143.3,143.9 L143.4,144.4 L143.4,144.9 L143.4,145.4 L143.5,145.9 L143.5,146.4 L143.6,146.9 L143.6,147.4 L143.6,148.0 L143.7,148.5 L143.7,149.0 L143.7,149.5 L143.8,150.0 L143.8,150.2M144.4,158.5 L144.4,159.0 L144.5,159.5 L144.5,160.0 L144.6,160.5 L144.6,161.0 L144.6,161.5 L144.7,162.0 L144.7,162.5 L144.8,163.0 L144.8,163.5 L144.8,164.0 L144.9,164.5 L144.9,165.0 L145.0,165.5 L145.0,166.0 L145.0,166.3M145.7,174.6 L145.8,175.0 L145.8,175.5 L145.9,176.0 L145.9,176.5 L146.0,176.0 L146.0,175.5 L146.1,175.0 L146.1,174.5 L146.1,174.0 L146.2,173.5 L146.2,173.0 L146.3,172.5 L146.3,172.0 L146.4,171.5 L146.4,171.0 L146.5,170.6M147.1,162.4 L147.1,162.0 L147.1,161.5 L147.2,161.0 L147.2,160.5 L147.2,160.0 L147.3,159.5 L147.3,159.0 L147.3,158.5 L147.4,158.0 L147.4,157.5 L147.4,157.0 L147.5,156.5 L147.5,156.0 L147.5,155.5 L147.5,155.0 L147.6,154.6M148.0,146.3 L148.0,146.0 L148.0,145.5 L148.1,145.0 L148.1,144.5 L148.1,144.0 L148.1,143.5 L148.1,143.0 L148.2,142.5 L148.2,142.0 L148.2,141.5 L148.2,141.0 L148.3,140.5 L148.3,140.0 L148.3,139.5 L148.3,139.0 L148.3,138.5M148.7,130.2 L148.7,129.9 L148.7,129.4 L148.8,128.9 L148.8,128.4 L148.8,127.9 L148.8,127.4 L148.9,126.9 L148.9,126.4 L148.9,125.9 L148.9,125.4 L149.0,124.9 L149.0,124.4 L149.0,123.9 L149.0,123.4 L149.1,122.9 L149.1,122.4 L149.1,122.4M149.5,114.1 L149.6,113.9 L149.6,113.4 L149.6,112.9 L149.6,112.4 L149.7,111.9 L149.7,111.4 L149.7,110.9 L149.8,110.4 L149.8,109.9 L149.8,109.4 L149.9,108.9 L149.9,108.4 L150.0,107.9 L150.0,107.4 L150.0,106.9 L150.1,106.4 L150.1,106.3M150.8,98.0 L150.8,97.9 L150.8,97.4 L150.9,96.9 L150.9,96.4 L151.0,95.9 L151.0,95.4 L151.1,94.9 L151.2,94.4 L151.2,93.9 L151.3,93.4 L151.3,92.9 L151.4,92.4 L151.4,91.9 L151.5,91.4 L151.5,90.9 L151.6,90.4 L151.6,90.3M152.7,82.0 L152.7,82.0 L152.8,81.5 L152.9,81.0 L153.0,80.5 L153.1,80.0 L153.1,79.5 L153.2,79.0 L153.3,78.5 L153.4,78.0 L153.5,77.5 L153.6,77.0 L153.6,76.5 L153.7,76.0 L153.8,75.5 L153.9,75.0 L154.0,74.5 L154.0,74.3M155.7,66.2 L155.7,66.1 L155.8,65.6 L155.9,65.1 L156.0,64.7 L156.2,64.2 L156.3,63.7 L156.4,63.2 L156.5,62.7 L156.7,62.2 L156.8,61.7 L156.9,61.2 L157.1,60.8 L157.2,60.3 L157.4,59.8 L157.5,59.3 L157.7,58.9 L157.8,58.7M162.3,51.8 L162.7,51.5 L163.0,51.1 L163.4,50.8 L163.7,50.4 L164.0,50.0 L164.3,49.6 L164.6,49.2 L164.9,48.8 L165.2,48.4 L165.5,48.0 L165.8,47.6 L166.1,47.2 L166.4,46.9 L166.8,46.6 L167.2,46.3 L167.5,46.0M174.0,40.9 L174.3,40.7 L174.8,40.5 L175.2,40.2 L175.7,40.0 L176.1,39.8 L176.6,39.6 L177.1,39.4 L177.5,39.2 L178.0,39.1 L178.5,38.9 L178.9,38.8 L179.4,38.6 L179.9,38.5 L180.4,38.3 L180.8,38.2 L181.3,38.1M189.4,36.4 L189.5,36.4 L190.0,36.3 L190.5,36.2 L191.1,36.1 L191.6,36.0 L192.1,35.9 L192.6,35.8 L193.1,35.7 L193.7,35.6 L194.2,35.5 L194.7,35.5 L195.2,35.4 L195.7,35.4 L196.3,35.3 L196.8,35.3 L197.1,35.3M204.5,38.4 L204.9,38.8 L205.2,39.2 L205.5,39.6 L205.9,40.1 L206.2,40.5 L206.5,40.9 L206.9,41.4 L207.2,41.8 L207.6,42.2 L207.9,42.6 L208.3,43.0 L208.6,43.4 L209.0,43.8 L209.4,44.1 L209.6,44.3M212.8,44.3 L213.1,43.9 L213.3,43.4 L213.6,42.9 L213.8,42.4 L214.0,41.9 L214.2,41.3 L214.4,40.8 L214.6,40.2 L214.8,39.7 L215.0,39.2 L215.2,38.7 L215.4,38.3 L215.7,37.9 L216.0,37.5 L216.1,37.3M222.5,34.5 L222.9,34.5 L223.4,34.5 L223.8,34.5 L224.3,34.6 L224.7,34.7 L225.1,34.7 L225.6,34.8 L226.0,34.9 L226.5,35.0 L226.9,35.1 L227.4,35.2 L227.9,35.2 L228.4,35.3 L228.8,35.4 L229.3,35.5 L229.8,35.6 L230.1,35.7M234.5,38.2 L234.9,38.6 L235.3,38.9 L235.7,39.3 L236.1,39.6 L236.5,39.9 L236.9,40.3 L237.3,40.6 L237.7,40.9 L238.1,41.2 L238.5,41.5 L238.9,41.8 L239.3,42.0 L239.7,42.3 L240.2,42.5 L240.6,42.7 L240.8,42.8" fill="none" stroke="#D95319" stroke-width="2.0" stroke-linejoin="round"/>
</g>
<g stroke="#555" stroke-width="1.0" fill="none">
<rect x="44.5" y="15.5" width="196.8" height="224.9"/>
<path d="M77.30,240.4v-2.2M77.30,15.5v2.2"/>
<path d="M110.10,240.4v-2.2M110.10,15.5v2.2"/>
<path d="M142.90,240.4v-2.2M142.90,15.5v2.2"/>
<path d="M175.70,240.4v-2.2M175.70,15.5v2.2"/>
<path d="M208.50,240.4v-2.2M208.50,15.5v2.2"/>
<path d="M44.5,71.72h2.2M241.3,71.72h-2.2"/>
<path d="M44.5,127.95h2.2M241.3,127.95h-2.2"/>
<path d="M44.5,184.18h2.2M241.3,184.18h-2.2"/>
</g>
<text class="t" x="44.50" y="256.7" text-anchor="middle">7</text>
<text class="t" x="77.30" y="256.7" text-anchor="middle">7.5</text>
<text class="t" x="110.10" y="256.7" text-anchor="middle">8</text>
<text class="t" x="142.90" y="256.7" text-anchor="middle">8.5</text>
<text class="t" x="175.70" y="256.7" text-anchor="middle">9</text>
<text class="t" x="208.50" y="256.7" text-anchor="middle">9.5</text>
<text class="t" x="241.30" y="256.7" text-anchor="middle">10</text>
<text class="t" x="41.1" y="19.70" text-anchor="end">-5</text>
<text class="t" x="41.1" y="75.92" text-anchor="end">-15</text>
<text class="t" x="41.1" y="132.15" text-anchor="end">-25</text>
<text class="t" x="41.1" y="188.38" text-anchor="end">-35</text>
<text class="t" x="41.1" y="244.60" text-anchor="end">-45</text>
<text class="l" transform="translate(19.2,128.1) rotate(-90)" text-anchor="middle">S Parameter(dB)</text>
<text class="l" x="142.8" y="274.0" text-anchor="middle" font-style="italic">f(GHz)</text>
<text class="c" x="133" y="295.7" text-anchor="middle">(a)</text>
<path d="M52.5,153.4H80.5" stroke="#0072BD" stroke-width="2.0"/>
<text class="g" x="84.3" y="156.2">Sim.(S<tspan class="s" dx="0.6" dy="6.2">11</tspan><tspan dx="0.8" dy="-6.2">)</tspan></text>
<path d="M52.5,173.7H80.5" stroke="#D95319" stroke-width="2.0"/>
<text class="g" x="84.3" y="176.5">Sim.(S<tspan class="s" dx="0.6" dy="6.2">12</tspan><tspan dx="0.8" dy="-6.2">)</tspan></text>
<path d="M52.5,193.8H80.5" stroke="#0072BD" stroke-width="2.0" stroke-dasharray="8.2 8.2"/>
<text class="g" x="84.3" y="196.6">Mea.(S<tspan class="s" dx="0.6" dy="6.2">11</tspan><tspan dx="0.8" dy="-6.2">)</tspan></text>
<path d="M52.5,214.4H80.5" stroke="#D95319" stroke-width="2.0" stroke-dasharray="8.2 8.2"/>
<text class="g" x="84.3" y="217.2">Mea.(S<tspan class="s" dx="0.6" dy="6.2">12</tspan><tspan dx="0.8" dy="-6.2">)</tspan></text>
<clipPath id="cr"><rect x="336.0" y="15.5" width="198.20000000000005" height="226.3"/></clipPath>
<g clip-path="url(#cr)">
<path d="M336.0,115.5 L336.5,115.7 L337.0,115.9 L337.4,116.2 L337.9,116.4 L338.3,116.7 L338.8,116.9 L339.2,117.2 L339.6,117.5 L340.0,117.8 L340.4,118.1 L340.8,118.4 L341.2,118.7 L341.6,119.0 L342.0,119.3 L342.3,119.7 L342.7,120.0 L343.0,120.4 L343.4,120.7 L343.7,121.1 L344.0,121.5 L344.4,121.8 L344.7,122.2 L345.0,122.6 L345.3,123.0 L345.6,123.4 L345.9,123.8 L346.2,124.2 L346.5,124.6 L346.8,125.0 L347.0,125.5 L347.3,125.9 L347.6,126.3 L347.9,126.8 L348.1,127.2 L348.4,127.6 L348.6,128.1 L348.9,128.5 L349.2,129.0 L349.4,129.4 L349.7,129.9 L349.9,130.3 L350.1,130.8 L350.4,131.3 L350.6,131.7 L350.9,132.2 L351.1,132.6 L351.4,133.1 L351.6,133.6 L351.8,134.0 L352.1,134.5 L352.3,134.9 L352.6,135.4 L352.8,135.9 L353.0,136.3 L353.3,136.8 L353.5,137.2 L353.8,137.7 L354.0,138.1 L354.3,138.6 L354.5,139.0 L354.8,139.5 L355.0,139.9 L355.3,140.4 L355.6,140.8 L355.8,141.2 L356.1,141.7 L356.4,142.1 L356.7,142.5 L356.9,142.9 L357.2,143.4 L357.5,143.8 L357.8,144.2 L358.1,144.6 L358.4,145.0 L358.7,145.3 L359.1,145.7 L359.4,146.1 L359.7,146.5 L360.1,146.8 L360.4,147.2 L360.7,147.6 L361.1,147.9 L361.5,148.2 L361.8,148.6 L362.2,148.9 L362.6,149.2 L363.0,149.5 L363.4,149.8 L363.6,149.4 L363.8,148.9 L364.1,148.5 L364.3,148.0 L364.5,147.6 L364.7,147.2 L364.9,146.7 L365.1,146.3 L365.3,145.8 L365.5,145.4 L365.7,144.9 L365.9,144.5 L366.1,144.0 L366.3,143.5 L366.5,143.1 L366.7,142.6 L366.9,142.2 L367.1,141.7 L367.3,141.3 L367.4,140.8 L367.6,140.3 L367.8,139.9 L368.0,139.4 L368.2,139.0 L368.4,138.5 L368.5,138.0 L368.7,137.6 L368.9,137.1 L369.1,136.6 L369.2,136.2 L369.4,135.7 L369.6,135.2 L369.8,134.7 L369.9,134.3 L370.1,133.8 L370.3,133.3 L370.5,132.9 L370.6,132.4 L370.8,131.9 L371.0,131.4 L371.1,131.0 L371.3,130.5 L371.5,130.0 L371.6,129.5 L371.8,129.1 L372.0,128.6 L372.1,128.1 L372.3,127.6 L372.4,127.1 L372.6,126.7 L372.8,126.2 L372.9,125.7 L373.1,125.2 L373.3,124.8 L373.4,124.3 L373.6,123.8 L373.7,123.3 L373.9,122.8 L374.1,122.4 L374.2,121.9 L374.4,121.4 L374.5,120.9 L374.7,120.4 L374.9,120.0 L375.0,119.5 L375.2,119.0 L375.3,118.5 L375.5,118.0 L375.7,117.6 L375.8,117.1 L376.0,116.6 L376.2,116.1 L376.3,115.6 L376.5,115.2 L376.6,114.7 L376.8,114.2 L377.0,113.7 L377.1,113.3 L377.3,112.8 L377.5,112.3 L377.6,111.8 L377.8,111.4 L378.0,110.9 L378.1,110.4 L378.3,109.9 L378.5,109.5 L378.7,109.0 L378.8,108.5 L379.0,108.0 L379.2,107.6 L379.3,107.1 L379.5,106.6 L379.7,106.2 L379.9,105.7 L380.1,105.2 L380.2,104.8 L380.4,104.3 L380.6,103.8 L380.8,103.4 L381.0,102.9 L381.2,102.4 L381.3,102.0 L381.5,101.5 L381.7,101.0 L381.9,100.6 L382.1,100.1 L382.3,99.7 L382.5,99.2 L382.7,98.7 L382.9,98.3 L383.0,97.8 L383.2,97.4 L383.4,96.9 L383.6,96.4 L383.8,96.0 L384.0,95.5 L384.2,95.1 L384.4,94.6 L384.6,94.2 L384.8,93.7 L385.0,93.3 L385.2,92.8 L385.4,92.4 L385.7,91.9 L385.9,91.5 L386.1,91.0 L386.3,90.5 L386.5,90.1 L386.7,89.6 L386.9,89.2 L387.1,88.8 L387.3,88.3 L387.5,87.9 L387.8,87.4 L388.0,87.0 L388.2,86.5 L388.4,86.1 L388.6,85.6 L388.8,85.2 L389.1,84.7 L389.3,84.3 L389.5,83.8 L389.7,83.4 L389.9,83.0 L390.2,82.5 L390.4,82.1 L390.6,81.6 L390.8,81.2 L391.1,80.7 L391.3,80.3 L391.5,79.9 L391.8,79.4 L392.0,79.0 L392.2,78.5 L392.5,78.1 L392.7,77.7 L392.9,77.2 L393.2,76.8 L393.4,76.3 L393.6,75.9 L393.9,75.5 L394.1,75.0 L394.3,74.6 L394.6,74.2 L394.8,73.7 L395.1,73.3 L395.3,72.8 L395.5,72.4 L395.8,72.0 L396.0,71.5 L396.3,71.1 L396.5,70.7 L396.8,70.2 L397.0,69.8 L397.3,69.4 L397.5,68.9 L397.8,68.5 L398.0,68.1 L398.3,67.6 L398.5,67.2 L398.8,66.8 L399.0,66.3 L399.3,65.9 L399.5,65.5 L399.8,65.0 L400.0,64.6 L400.3,64.2 L400.6,63.8 L400.8,63.3 L401.1,62.9 L401.3,62.5 L401.6,62.0 L401.9,61.6 L402.1,61.2 L402.4,60.7 L402.7,60.3 L402.9,59.9 L403.2,59.5 L403.5,59.0 L403.7,58.6 L404.0,58.2 L404.3,57.7 L404.5,57.3 L404.8,56.9 L405.1,56.4 L405.3,56.0 L405.6,55.6 L405.9,55.2 L406.2,54.7 L406.4,54.3 L406.7,53.9 L407.0,53.5 L407.3,53.0 L407.5,52.6 L407.8,52.2 L408.1,51.7 L408.4,51.3 L408.6,50.9 L408.9,50.5 L409.2,50.0 L409.5,49.6 L409.8,49.2 L410.1,48.7 L410.3,48.3 L410.6,47.9 L410.9,47.5 L411.2,47.0 L411.5,46.6 L411.8,46.2 L412.1,45.8 L412.4,45.4 L412.7,44.9 L412.9,44.5 L413.2,44.1 L413.5,43.7 L413.9,43.3 L414.2,42.9 L414.5,42.5 L414.8,42.1 L415.1,41.7 L415.4,41.3 L415.7,40.9 L416.0,40.5 L416.4,40.1 L416.7,39.7 L417.0,39.4 L417.4,39.0 L417.7,38.6 L418.0,38.3 L418.4,37.9 L418.7,37.5 L419.1,37.2 L419.4,36.8 L419.8,36.5 L420.2,36.2 L420.5,35.8 L420.9,35.5 L421.3,35.2 L421.6,34.9 L422.0,34.6 L422.4,34.3 L422.8,34.0 L423.2,33.7 L423.6,33.4 L424.0,33.2 L424.4,32.9 L424.9,32.7 L425.3,32.4 L425.7,32.2 L426.2,31.9 L426.6,31.7 L427.1,31.5 L427.5,31.3 L428.0,31.1 L428.4,30.9 L428.9,30.7 L429.4,30.5 L429.9,30.4 L430.3,30.2 L430.8,30.1 L431.3,30.0 L431.8,29.8 L432.3,29.7 L432.8,29.6 L433.3,29.5 L433.8,29.5 L434.3,29.4 L434.8,29.3 L435.3,29.3 L435.8,29.3 L436.3,29.3 L436.8,29.3 L437.3,29.3 L437.8,29.3 L438.3,29.4 L438.8,29.4 L439.3,29.5 L439.8,29.6 L440.3,29.6 L440.7,29.7 L441.2,29.9 L441.7,30.0 L442.2,30.1 L442.6,30.3 L443.1,30.4 L443.5,30.6 L444.0,30.8 L444.4,31.0 L444.9,31.2 L445.3,31.4 L445.8,31.6 L446.2,31.8 L446.6,32.0 L447.0,32.3 L447.4,32.5 L447.8,32.8 L448.2,33.1 L448.6,33.3 L449.0,33.6 L449.4,33.9 L449.8,34.2 L450.2,34.5 L450.6,34.8 L450.9,35.1 L451.3,35.5 L451.7,35.8 L452.0,36.1 L452.4,36.5 L452.8,36.8 L453.1,37.2 L453.5,37.5 L453.8,37.9 L454.2,38.3 L454.5,38.7 L454.8,39.0 L455.2,39.4 L455.5,39.8 L455.8,40.2 L456.1,40.6 L456.5,41.0 L456.8,41.4 L457.1,41.8 L457.4,42.2 L457.7,42.6 L458.0,43.0 L458.4,43.4 L458.7,43.9 L459.0,44.3 L459.3,44.7 L459.6,45.1 L459.9,45.6 L460.2,46.0 L460.5,46.4 L460.8,46.8 L461.0,47.3 L461.3,47.7 L461.6,48.1 L461.9,48.5 L462.2,49.0 L462.5,49.4 L462.8,49.8 L463.1,50.2 L463.3,50.7 L463.6,51.1 L463.9,51.5 L464.2,52.0 L464.4,52.4 L464.7,52.8 L465.0,53.2 L465.3,53.7 L465.5,54.1 L465.8,54.5 L466.1,55.0 L466.3,55.4 L466.6,55.8 L466.9,56.3 L467.1,56.7 L467.4,57.1 L467.7,57.5 L467.9,58.0 L468.2,58.4 L468.4,58.8 L468.7,59.3 L469.0,59.7 L469.2,60.1 L469.5,60.6 L469.7,61.0 L470.0,61.4 L470.2,61.9 L470.5,62.3 L470.7,62.7 L471.0,63.2 L471.2,63.6 L471.4,64.0 L471.7,64.5 L471.9,64.9 L472.2,65.4 L472.4,65.8 L472.6,66.2 L472.9,66.7 L473.1,67.1 L473.4,67.5 L473.6,68.0 L473.8,68.4 L474.1,68.9 L474.3,69.3 L474.5,69.7 L474.7,70.2 L475.0,70.6 L475.2,71.1 L475.4,71.5 L475.7,71.9 L475.9,72.4 L476.1,72.8 L476.3,73.3 L476.5,73.7 L476.8,74.2 L477.0,74.6 L477.2,75.0 L477.4,75.5 L477.6,75.9 L477.8,76.4 L478.1,76.8 L478.3,77.3 L478.5,77.7 L478.7,78.2 L478.9,78.6 L479.1,79.1 L479.3,79.5 L479.5,80.0 L479.7,80.4 L479.9,80.9 L480.2,81.3 L480.4,81.8 L480.6,82.2 L480.8,82.7 L481.0,83.1 L481.2,83.6 L481.4,84.0 L481.6,84.5 L481.8,84.9 L482.0,85.4 L482.2,85.8 L482.4,86.3 L482.6,86.8 L482.7,87.2 L482.9,87.7 L483.1,88.1 L483.3,88.6 L483.5,89.1 L483.7,89.5 L483.9,90.0 L484.1,90.4 L484.3,90.9 L484.5,91.4 L484.6,91.8 L484.8,92.3 L485.0,92.7 L485.2,93.2 L485.4,93.7 L485.6,94.1 L485.8,94.6 L485.9,95.1 L486.1,95.5 L486.3,96.0 L486.5,96.5 L486.6,96.9 L486.8,97.4 L487.0,97.9 L487.2,98.4 L487.4,98.8 L487.5,99.3 L487.7,99.8 L487.9,100.2 L488.0,100.7 L488.2,101.2 L488.4,101.6 L488.6,102.1 L488.7,102.6 L488.9,103.1 L489.1,103.5 L489.2,104.0 L489.4,104.5 L489.6,105.0 L489.7,105.4 L489.9,105.9 L490.0,106.4 L490.2,106.9 L490.4,107.3 L490.5,107.8 L490.7,108.3 L490.8,108.8 L491.0,109.3 L491.2,109.7 L491.3,110.2 L491.5,110.7 L491.6,111.2 L491.8,111.7 L491.9,112.1 L492.1,112.6 L492.2,113.1 L492.4,113.6 L492.5,114.1 L492.7,114.5 L492.8,115.0 L493.0,115.5 L493.1,116.0 L493.3,116.5 L493.4,117.0 L493.6,117.4 L493.7,117.9 L493.8,118.4 L494.0,118.9 L494.1,119.4 L494.3,119.9 L494.4,120.3 L494.5,120.8 L494.7,121.3 L494.8,121.8 L495.0,122.3 L495.1,122.8 L495.2,123.3 L495.4,123.7 L495.5,124.2 L495.6,124.7 L495.8,125.2 L495.9,125.7 L496.0,126.2 L496.1,126.7 L496.3,127.2 L496.4,127.6 L496.5,128.1 L496.6,128.6 L496.8,129.1 L496.9,129.6 L497.0,130.1 L497.1,130.6 L497.3,131.1 L497.4,131.6 L497.5,132.0 L497.6,132.5 L497.7,133.0 L497.9,133.5 L498.0,134.0 L498.1,134.5 L498.2,135.0 L498.3,135.5 L498.4,136.0 L498.6,136.5 L498.7,136.9 L498.8,137.4 L498.9,137.9 L499.0,138.4 L499.1,138.9 L499.2,139.4 L499.3,139.9 L499.4,140.4 L499.5,140.9 L499.6,141.4 L499.7,141.9 L499.8,142.3 L499.9,142.8 L500.1,143.3 L500.2,143.8 L500.3,144.3 L500.4,144.8 L500.4,145.3 L500.5,145.8 L500.6,146.3 L500.7,146.8 L500.8,147.3 L500.9,147.8 L501.0,148.2 L501.1,148.7 L501.2,149.2 L501.3,149.7 L501.4,150.2 L501.5,150.7 L501.6,151.2 L501.7,151.7 L501.8,152.2 L501.9,152.7 L502.0,153.1 L502.1,153.6 L502.2,154.1 L502.2,154.6 L502.3,155.1 L502.4,155.6 L502.5,156.1 L502.6,156.6 L502.7,157.1 L502.8,157.5 L502.9,158.0 L503.0,158.5 L503.1,159.0 L503.2,159.5 L503.3,160.0 L503.4,160.5 L503.5,161.0 L503.6,161.4 L503.7,161.9 L503.9,162.4 L504.0,162.9 L504.1,163.4 L504.2,163.9 L504.3,164.3 L504.4,164.8 L504.5,165.3 L504.7,165.8 L504.8,166.3 L504.9,166.8 L505.0,167.2 L505.2,167.7 L505.3,168.2 L505.4,168.7 L505.6,169.2 L505.7,169.6 L505.8,170.1 L506.0,170.6 L506.1,171.1 L506.3,171.5 L506.4,172.0 L506.6,172.5 L506.7,173.0 L506.9,173.4 L507.0,173.9 L507.2,174.4 L507.4,174.9 L507.5,175.3 L507.7,175.8 L507.9,175.3 L508.1,174.9 L508.3,174.4 L508.4,173.9 L508.6,173.5 L508.8,173.0 L509.0,172.5 L509.1,172.1 L509.3,171.6 L509.5,171.1 L509.7,170.7 L509.8,170.2 L510.0,169.7 L510.2,169.2 L510.3,168.8 L510.5,168.3 L510.6,167.8 L510.8,167.4 L511.0,166.9 L511.1,166.4 L511.3,165.9 L511.4,165.5 L511.6,165.0 L511.7,164.5 L511.9,164.1 L512.0,163.6 L512.2,163.1 L512.3,162.6 L512.5,162.1 L512.6,161.7 L512.8,161.2 L512.9,160.7 L513.0,160.2 L513.2,159.8 L513.3,159.3 L513.5,158.8 L513.6,158.3 L513.7,157.8 L513.9,157.4 L514.0,156.9 L514.1,156.4 L514.3,155.9 L514.4,155.4 L514.5,154.9 L514.7,154.5 L514.8,154.0 L514.9,153.5 L515.1,153.0 L515.2,152.5 L515.3,152.0 L515.4,151.5 L515.6,151.0 L515.7,150.6 L515.8,150.1 L516.0,149.6 L516.1,149.1 L516.2,148.6 L516.3,148.1 L516.4,147.6 L516.6,147.1 L516.7,146.6 L516.8,146.1 L516.9,145.6 L517.1,145.1 L517.2,144.6 L517.3,144.1 L517.4,143.6 L517.6,143.1 L517.7,142.6 L517.8,142.1 L517.9,141.6 L518.1,141.1 L518.2,140.6 L518.3,140.1 L518.5,139.7 L518.6,139.2 L518.7,138.7 L518.9,138.2 L519.0,137.7 L519.1,137.2 L519.3,136.7 L519.4,136.2 L519.6,135.7 L519.7,135.2 L519.9,134.7 L520.0,134.3 L520.2,133.8 L520.4,133.3 L520.5,132.8 L520.7,132.3 L520.9,131.9 L521.0,131.4 L521.2,130.9 L521.4,130.5 L521.6,130.0 L521.8,129.5 L522.0,129.1 L522.2,128.6 L522.4,128.2 L522.6,127.7 L522.8,127.2 L523.0,126.8 L523.2,126.4 L523.5,125.9 L523.7,125.5 L523.9,125.0 L524.2,124.6 L524.4,124.2 L524.7,123.7 L524.9,123.3 L525.2,122.9 L525.5,122.5 L525.8,122.1 L526.0,121.7 L526.3,121.3 L526.6,120.9 L526.9,120.5 L527.3,120.1 L527.6,119.8 L527.9,119.4 L528.3,119.0 L528.6,118.7 L529.0,118.4 L529.4,118.1 L529.7,117.8 L530.1,117.5 L530.6,117.2 L531.0,116.9 L531.4,116.7 L531.9,116.4 L532.3,116.2 L532.8,116.0 L533.3,115.8 L533.8,115.7 L534.3,115.5" fill="none" stroke="#0072BD" stroke-width="2.0" stroke-linejoin="round"/>
<path d="M336.0,115.5 L336.4,115.8 L336.9,116.0 L337.3,116.3 L337.7,116.6 L338.1,116.9 L338.5,117.2 L338.9,117.5 L339.3,117.8 L339.7,118.1 L340.0,118.4 L340.4,118.7 L340.8,119.0 L341.1,119.4 L341.5,119.7 L341.8,120.0 L342.2,120.4 L342.5,120.7 L342.9,121.1 L343.2,121.5 L343.5,121.8 L343.8,122.2 L344.2,122.6 L344.5,123.0 L344.8,123.3 L345.1,123.7 L345.4,124.1 L345.7,124.5 L346.0,124.9 L346.2,125.3 L346.5,125.7 L346.8,126.1 L347.1,126.6 L347.3,127.0 L347.6,127.4 L347.9,127.8 L348.1,128.3 L348.4,128.7 L348.6,129.1 L348.9,129.6 L349.1,130.0 L349.3,130.4 L349.6,130.9 L349.8,131.3 L350.0,131.8 L350.2,132.2 L350.5,132.7 L350.7,133.2 L350.9,133.6 L351.1,134.1 L351.3,134.5 L351.5,135.0 L351.7,135.5 L351.9,135.9 L352.1,136.4 L352.3,136.9 L352.5,137.4 L352.7,137.8 L352.8,138.3 L353.0,138.8 L353.2,139.3 L353.4,139.7 L353.6,140.2 L353.7,140.7 L353.9,141.2 L354.1,141.7 L354.2,142.1 L354.4,142.6 L354.5,143.1 L354.7,143.6 L354.8,144.1 L355.0,144.6 L355.1,145.0 L355.3,145.5 L355.4,146.0 L355.6,146.5 L355.7,147.0 L355.9,147.5 L356.0,147.9 L356.1,148.4 L356.3,148.9 L356.4,149.4 L356.5,149.9 L356.7,150.4 L356.8,150.8 L356.9,151.3 L357.1,151.8 L357.2,152.3 L357.3,152.8 L357.4,153.3 L357.6,153.7 L357.7,154.2 L357.8,154.7 L357.9,155.2 L358.0,155.7 L358.1,156.2 L358.3,156.7 L358.4,157.1 L358.5,157.6 L358.6,158.1 L358.7,158.6 L358.8,159.1 L358.9,159.6 L359.0,160.1 L359.2,160.5 L359.3,161.0 L359.4,161.5 L359.5,162.0 L359.6,162.5 L359.7,163.0 L359.8,163.5 L359.9,163.9 L360.0,164.4 L360.1,164.9 L360.2,165.4 L360.4,165.9 L360.5,166.4 L360.6,166.8 L360.7,167.3 L360.8,167.8 L360.9,168.3 L361.0,168.8 L361.1,169.3 L361.2,169.7 L361.3,170.2 L361.4,170.7 L361.5,171.2 L361.7,171.7 L361.8,172.2 L361.9,172.6 L362.0,173.1 L362.1,173.6 L362.2,174.1 L362.3,174.6 L362.5,175.0 L362.6,175.5 L362.7,176.0 L362.8,176.5 L362.9,177.0 L363.0,177.4 L363.2,177.9 L363.3,178.4 L363.4,178.9 L363.5,179.4 L363.7,179.8 L363.8,180.3 L363.9,180.8 L364.1,181.3 L364.2,181.8 L364.3,182.2 L364.5,182.7 L364.6,183.2 L364.8,183.7 L364.9,184.2 L365.1,184.7 L365.2,185.1 L365.4,185.6 L365.6,186.1 L365.7,186.6 L365.9,187.1 L366.1,187.6 L366.3,188.1 L366.5,188.6 L366.7,189.1 L366.9,189.6 L367.1,190.1 L367.3,190.6 L367.5,191.1 L367.8,191.6 L368.1,192.0 L368.3,192.3 L368.6,192.6 L369.0,192.8 L369.3,192.8 L369.7,192.8 L370.0,192.6 L370.2,192.4 L370.5,192.0 L370.7,191.6 L370.8,191.2 L371.0,190.7 L371.2,190.2 L371.3,189.7 L371.5,189.2 L371.6,188.7 L371.8,188.3 L371.9,187.8 L372.1,187.3 L372.2,186.8 L372.4,186.3 L372.5,185.8 L372.7,185.3 L372.8,184.8 L373.0,184.4 L373.1,183.9 L373.2,183.4 L373.4,182.9 L373.5,182.4 L373.7,181.9 L373.8,181.4 L374.0,180.9 L374.1,180.5 L374.3,180.0 L374.4,179.5 L374.6,179.0 L374.7,178.5 L374.8,178.0 L375.0,177.5 L375.1,177.1 L375.3,176.6 L375.4,176.1 L375.6,175.6 L375.7,175.1 L375.8,174.6 L376.0,174.1 L376.1,173.7 L376.3,173.2 L376.4,172.7 L376.6,172.2 L376.7,171.7 L376.8,171.2 L377.0,170.8 L377.1,170.3 L377.3,169.8 L377.4,169.3 L377.5,168.8 L377.7,168.3 L377.8,167.9 L377.9,167.4 L378.1,166.9 L378.2,166.4 L378.4,165.9 L378.5,165.4 L378.6,165.0 L378.8,164.5 L378.9,164.0 L379.0,163.5 L379.2,163.0 L379.3,162.5 L379.5,162.1 L379.6,161.6 L379.7,161.1 L379.9,160.6 L380.0,160.1 L380.1,159.6 L380.3,159.2 L380.4,158.7 L380.5,158.2 L380.7,157.7 L380.8,157.2 L380.9,156.8 L381.1,156.3 L381.2,155.8 L381.3,155.3 L381.5,154.8 L381.6,154.3 L381.8,153.9 L381.9,153.4 L382.0,152.9 L382.2,152.4 L382.3,151.9 L382.4,151.5 L382.6,151.0 L382.7,150.5 L382.8,150.0 L382.9,149.5 L383.1,149.1 L383.2,148.6 L383.3,148.1 L383.5,147.6 L383.6,147.1 L383.7,146.6 L383.9,146.2 L384.0,145.7 L384.1,145.2 L384.3,144.7 L384.4,144.2 L384.5,143.8 L384.7,143.3 L384.8,142.8 L384.9,142.3 L385.1,141.8 L385.2,141.4 L385.3,140.9 L385.5,140.4 L385.6,139.9 L385.7,139.4 L385.8,139.0 L386.0,138.5 L386.1,138.0 L386.2,137.5 L386.4,137.0 L386.5,136.5 L386.6,136.1 L386.8,135.6 L386.9,135.1 L387.0,134.6 L387.2,134.1 L387.3,133.7 L387.4,133.2 L387.6,132.7 L387.7,132.2 L387.8,131.7 L387.9,131.3 L388.1,130.8 L388.2,130.3 L388.3,129.8 L388.5,129.3 L388.6,128.8 L388.7,128.4 L388.9,127.9 L389.0,127.4 L389.1,126.9 L389.3,126.4 L389.4,126.0 L389.5,125.5 L389.6,125.0 L389.8,124.5 L389.9,124.0 L390.0,123.5 L390.2,123.1 L390.3,122.6 L390.4,122.1 L390.6,121.6 L390.7,121.1 L390.8,120.6 L391.0,120.2 L391.1,119.7 L391.2,119.2 L391.4,118.7 L391.5,118.2 L391.6,117.7 L391.8,117.3 L391.9,116.8 L392.0,116.3 L392.2,115.8 L392.3,115.3 L392.4,114.9 L392.6,114.4 L392.7,113.9 L392.8,113.4 L393.0,112.9 L393.1,112.4 L393.2,112.0 L393.4,111.5 L393.5,111.0 L393.6,110.5 L393.8,110.0 L393.9,109.5 L394.0,109.1 L394.2,108.6 L394.3,108.1 L394.5,107.6 L394.6,107.1 L394.7,106.6 L394.9,106.2 L395.0,105.7 L395.1,105.2 L395.3,104.7 L395.4,104.2 L395.6,103.8 L395.7,103.3 L395.8,102.8 L396.0,102.3 L396.1,101.8 L396.3,101.3 L396.4,100.9 L396.5,100.4 L396.7,99.9 L396.8,99.4 L397.0,98.9 L397.1,98.5 L397.2,98.0 L397.4,97.5 L397.5,97.0 L397.7,96.5 L397.8,96.1 L398.0,95.6 L398.1,95.1 L398.3,94.6 L398.4,94.1 L398.6,93.7 L398.7,93.2 L398.8,92.7 L399.0,92.2 L399.1,91.7 L399.3,91.3 L399.4,90.8 L399.6,90.3 L399.7,89.8 L399.9,89.3 L400.0,88.9 L400.2,88.4 L400.3,87.9 L400.5,87.4 L400.6,87.0 L400.8,86.5 L400.9,86.0 L401.1,85.5 L401.3,85.0 L401.4,84.6 L401.6,84.1 L401.7,83.6 L401.9,83.1 L402.0,82.7 L402.2,82.2 L402.3,81.7 L402.5,81.2 L402.7,80.8 L402.8,80.3 L403.0,79.8 L403.1,79.3 L403.3,78.9 L403.5,78.4 L403.6,77.9 L403.8,77.4 L404.0,77.0 L404.1,76.5 L404.3,76.0 L404.5,75.5 L404.6,75.1 L404.8,74.6 L405.0,74.1 L405.1,73.7 L405.3,73.2 L405.5,72.7 L405.6,72.2 L405.8,71.8 L406.0,71.3 L406.1,70.8 L406.3,70.4 L406.5,69.9 L406.7,69.4 L406.8,68.9 L407.0,68.5 L407.2,68.0 L407.4,67.5 L407.5,67.1 L407.7,66.6 L407.9,66.1 L408.1,65.7 L408.3,65.2 L408.4,64.7 L408.6,64.3 L408.8,63.8 L409.0,63.3 L409.2,62.9 L409.3,62.4 L409.5,61.9 L409.7,61.5 L409.9,61.0 L410.1,60.6 L410.3,60.1 L410.5,59.6 L410.7,59.2 L410.9,58.7 L411.0,58.2 L411.2,57.8 L411.4,57.3 L411.6,56.9 L411.8,56.4 L412.0,55.9 L412.2,55.5 L412.4,55.0 L412.6,54.6 L412.8,54.1 L413.0,53.6 L413.2,53.2 L413.4,52.7 L413.6,52.3 L413.9,51.8 L414.1,51.4 L414.3,50.9 L414.5,50.5 L414.7,50.0 L414.9,49.6 L415.2,49.1 L415.4,48.7 L415.6,48.2 L415.8,47.8 L416.1,47.3 L416.3,46.9 L416.5,46.4 L416.8,46.0 L417.0,45.6 L417.2,45.1 L417.5,44.7 L417.7,44.2 L418.0,43.8 L418.2,43.4 L418.5,42.9 L418.7,42.5 L419.0,42.1 L419.3,41.6 L419.5,41.2 L419.8,40.8 L420.1,40.4 L420.3,39.9 L420.6,39.5 L420.9,39.1 L421.2,38.7 L421.5,38.3 L421.7,37.8 L422.0,37.4 L422.3,37.0 L422.6,36.6 L422.9,36.2 L423.2,35.8 L423.6,35.4 L423.9,35.0 L424.2,34.6 L424.5,34.2 L424.9,33.9 L425.2,33.5 L425.6,33.2 L425.9,32.8 L426.3,32.5 L426.7,32.2 L427.0,31.9 L427.4,31.6 L427.8,31.3 L428.2,31.1 L428.6,30.8 L429.0,30.6 L429.5,30.4 L429.9,30.2 L430.4,30.0 L430.8,29.8 L431.3,29.7 L431.8,29.6 L432.3,29.5 L432.8,29.4 L433.3,29.3 L433.8,29.3 L434.3,29.2 L434.8,29.2 L435.3,29.2 L435.8,29.2 L436.4,29.3 L436.9,29.3 L437.4,29.4 L437.9,29.5 L438.4,29.6 L439.0,29.7 L439.5,29.8 L440.0,30.0 L440.5,30.1 L441.0,30.3 L441.5,30.5 L442.0,30.7 L442.4,30.9 L442.9,31.1 L443.4,31.3 L443.8,31.6 L444.3,31.8 L444.7,32.1 L445.1,32.4 L445.5,32.7 L445.9,33.0 L446.2,33.3 L446.6,33.7 L447.0,34.0 L447.3,34.4 L447.6,34.7 L447.9,35.1 L448.2,35.5 L448.5,35.9 L448.8,36.3 L449.1,36.7 L449.3,37.1 L449.6,37.5 L449.8,37.9 L450.1,38.3 L450.3,38.8 L450.5,39.2 L450.8,39.7 L451.0,40.1 L451.2,40.6 L451.4,41.0 L451.6,41.5 L451.8,41.9 L452.0,42.4 L452.2,42.9 L452.4,43.3 L452.6,43.8 L452.8,44.3 L453.0,44.7 L453.1,45.2 L453.3,45.7 L453.5,46.1 L453.7,46.6 L453.9,47.1 L454.1,47.5 L454.3,48.0 L454.5,48.5 L454.6,48.9 L454.8,49.4 L455.0,49.9 L455.2,50.4 L455.4,50.8 L455.6,51.3 L455.8,51.8 L455.9,52.2 L456.1,52.7 L456.3,53.2 L456.5,53.6 L456.7,54.1 L456.9,54.6 L457.0,55.0 L457.2,55.5 L457.4,56.0 L457.6,56.4 L457.8,56.9 L458.0,57.4 L458.1,57.9 L458.3,58.3 L458.5,58.8 L458.7,59.3 L458.9,59.7 L459.0,60.2 L459.2,60.7 L459.4,61.1 L459.6,61.6 L459.8,62.1 L459.9,62.5 L460.1,63.0 L460.3,63.5 L460.5,63.9 L460.7,64.4 L460.8,64.9 L461.0,65.4 L461.2,65.8 L461.4,66.3 L461.5,66.8 L461.7,67.2 L461.9,67.7 L462.1,68.2 L462.2,68.6 L462.4,69.1 L462.6,69.6 L462.8,70.0 L462.9,70.5 L463.1,71.0 L463.3,71.5 L463.5,71.9 L463.6,72.4 L463.8,72.9 L464.0,73.3 L464.1,73.8 L464.3,74.3 L464.5,74.7 L464.7,75.2 L464.8,75.7 L465.0,76.1 L465.2,76.6 L465.3,77.1 L465.5,77.6 L465.7,78.0 L465.9,78.5 L466.0,79.0 L466.2,79.4 L466.4,79.9 L466.5,80.4 L466.7,80.8 L466.9,81.3 L467.0,81.8 L467.2,82.3 L467.4,82.7 L467.5,83.2 L467.7,83.7 L467.9,84.1 L468.0,84.6 L468.2,85.1 L468.4,85.6 L468.5,86.0 L468.7,86.5 L468.9,87.0 L469.0,87.4 L469.2,87.9 L469.4,88.4 L469.5,88.9 L469.7,89.3 L469.8,89.8 L470.0,90.3 L470.2,90.7 L470.3,91.2 L470.5,91.7 L470.7,92.2 L470.8,92.6 L471.0,93.1 L471.1,93.6 L471.3,94.0 L471.5,94.5 L471.6,95.0 L471.8,95.5 L471.9,95.9 L472.1,96.4 L472.3,96.9 L472.4,97.4 L472.6,97.8 L472.7,98.3 L472.9,98.8 L473.1,99.3 L473.2,99.7 L473.4,100.2 L473.5,100.7 L473.7,101.2 L473.8,101.6 L474.0,102.1 L474.2,102.6 L474.3,103.1 L474.5,103.5 L474.6,104.0 L474.8,104.5 L474.9,105.0 L475.1,105.4 L475.2,105.9 L475.4,106.4 L475.5,106.9 L475.7,107.3 L475.9,107.8 L476.0,108.3 L476.2,108.8 L476.3,109.2 L476.5,109.7 L476.6,110.2 L476.8,110.7 L476.9,111.1 L477.1,111.6 L477.2,112.1 L477.4,112.6 L477.5,113.1 L477.7,113.5 L477.8,114.0 L478.0,114.5 L478.1,115.0 L478.3,115.5 L478.4,115.9 L478.6,116.4 L478.7,116.9 L478.9,117.4 L479.0,117.8 L479.2,118.3 L479.3,118.8 L479.5,119.3 L479.6,119.8 L479.7,120.2 L479.9,120.7 L480.0,121.2 L480.2,121.7 L480.3,122.2 L480.5,122.6 L480.6,123.1 L480.8,123.6 L480.9,124.1 L481.1,124.6 L481.2,125.0 L481.4,125.5 L481.5,126.0 L481.7,126.5 L481.8,127.0 L482.0,127.4 L482.1,127.9 L482.2,128.4 L482.4,128.9 L482.5,129.4 L482.7,129.8 L482.8,130.3 L483.0,130.8 L483.1,131.3 L483.3,131.7 L483.4,132.2 L483.6,132.7 L483.7,133.2 L483.9,133.7 L484.0,134.1 L484.1,134.6 L484.3,135.1 L484.4,135.6 L484.6,136.1 L484.7,136.5 L484.9,137.0 L485.0,137.5 L485.2,138.0 L485.3,138.5 L485.5,138.9 L485.6,139.4 L485.8,139.9 L485.9,140.4 L486.1,140.9 L486.2,141.3 L486.4,141.8 L486.5,142.3 L486.6,142.8 L486.8,143.3 L486.9,143.7 L487.1,144.2 L487.2,144.7 L487.4,145.2 L487.5,145.6 L487.7,146.1 L487.8,146.6 L488.0,147.1 L488.1,147.6 L488.3,148.0 L488.4,148.5 L488.6,149.0 L488.7,149.5 L488.9,149.9 L489.0,150.4 L489.2,150.9 L489.3,151.4 L489.5,151.8 L489.6,152.3 L489.8,152.8 L489.9,153.3 L490.1,153.7 L490.3,154.2 L490.4,154.7 L490.6,155.2 L490.7,155.6 L490.9,156.1 L491.0,156.6 L491.2,157.1 L491.3,157.5 L491.5,158.0 L491.6,158.5 L491.8,159.0 L492.0,159.4 L492.1,159.9 L492.3,160.4 L492.4,160.9 L492.6,161.3 L492.7,161.8 L492.9,162.3 L493.1,162.7 L493.2,163.2 L493.4,163.7 L493.5,164.2 L493.7,164.6 L493.9,165.1 L494.0,165.6 L494.2,166.0 L494.3,166.5 L494.5,167.0 L494.7,167.5 L494.8,167.9 L495.0,168.4 L495.1,168.9 L495.3,169.3 L495.5,169.8 L495.6,170.3 L495.8,170.8 L496.0,171.2 L496.1,171.7 L496.3,172.2 L496.4,172.6 L496.6,173.1 L496.8,173.6 L496.9,174.1 L497.1,174.6 L497.3,175.0 L497.4,175.5 L497.6,176.0 L497.7,176.5 L497.9,177.0 L498.1,177.4 L498.2,177.9 L498.4,178.4 L498.5,178.9 L498.7,179.4 L498.9,179.9 L499.0,180.4 L499.2,180.9 L499.3,181.3 L499.5,181.8 L499.6,182.3 L499.8,182.8 L500.0,183.3 L500.2,183.8 L500.4,184.2 L500.6,184.7 L501.0,185.1 L501.3,185.4 L501.7,185.7 L502.1,185.9 L502.6,186.0 L503.0,186.0 L503.3,185.8 L503.6,185.6 L503.9,185.3 L504.1,184.9 L504.3,184.5 L504.4,184.0 L504.6,183.5 L504.7,183.0 L504.9,182.5 L505.0,182.0 L505.2,181.5 L505.3,181.0 L505.5,180.5 L505.6,180.0 L505.8,179.5 L505.9,179.0 L506.1,178.5 L506.2,178.0 L506.4,177.5 L506.5,177.0 L506.6,176.6 L506.8,176.1 L506.9,175.6 L507.1,175.1 L507.2,174.6 L507.4,174.1 L507.5,173.6 L507.6,173.2 L507.8,172.7 L507.9,172.2 L508.1,171.7 L508.2,171.2 L508.3,170.7 L508.5,170.3 L508.6,169.8 L508.7,169.3 L508.9,168.8 L509.0,168.3 L509.1,167.9 L509.3,167.4 L509.4,166.9 L509.5,166.4 L509.7,165.9 L509.8,165.5 L510.0,165.0 L510.1,164.5 L510.2,164.0 L510.3,163.5 L510.5,163.1 L510.6,162.6 L510.7,162.1 L510.9,161.6 L511.0,161.2 L511.1,160.7 L511.3,160.2 L511.4,159.7 L511.5,159.2 L511.7,158.8 L511.8,158.3 L511.9,157.8 L512.0,157.3 L512.2,156.8 L512.3,156.3 L512.4,155.9 L512.6,155.4 L512.7,154.9 L512.8,154.4 L512.9,153.9 L513.1,153.5 L513.2,153.0 L513.3,152.5 L513.5,152.0 L513.6,151.5 L513.7,151.1 L513.9,150.6 L514.0,150.1 L514.1,149.6 L514.3,149.1 L514.4,148.6 L514.5,148.2 L514.7,147.7 L514.8,147.2 L514.9,146.7 L515.1,146.2 L515.2,145.8 L515.3,145.3 L515.5,144.8 L515.6,144.3 L515.8,143.8 L515.9,143.4 L516.1,142.9 L516.2,142.4 L516.3,141.9 L516.5,141.4 L516.6,141.0 L516.8,140.5 L516.9,140.0 L517.1,139.5 L517.3,139.1 L517.4,138.6 L517.6,138.1 L517.7,137.6 L517.9,137.1 L518.1,136.7 L518.2,136.2 L518.4,135.7 L518.6,135.2 L518.7,134.8 L518.9,134.3 L519.1,133.8 L519.2,133.3 L519.4,132.9 L519.6,132.4 L519.8,131.9 L520.0,131.4 L520.2,131.0 L520.3,130.5 L520.5,130.0 L520.7,129.6 L520.9,129.1 L521.1,128.6 L521.3,128.2 L521.5,127.7 L521.7,127.2 L521.9,126.8 L522.2,126.3 L522.4,125.9 L522.6,125.4 L522.8,125.0 L523.1,124.5 L523.3,124.1 L523.6,123.6 L523.8,123.2 L524.1,122.8 L524.3,122.4 L524.6,122.0 L524.9,121.6 L525.2,121.2 L525.5,120.8 L525.8,120.4 L526.1,120.1 L526.4,119.7 L526.8,119.4 L527.1,119.0 L527.5,118.7 L527.9,118.4 L528.2,118.1 L528.6,117.8 L529.0,117.6 L529.4,117.3 L529.9,117.0 L530.3,116.8 L530.8,116.6 L531.2,116.4 L531.7,116.2 L532.2,116.0 L532.7,115.9 L533.2,115.7 L533.7,115.6 L534.3,115.5" fill="none" stroke="#D95319" stroke-width="2.0" stroke-linejoin="round"/>
<path d="M336.5,131.5 L337.0,131.3 L337.5,131.1 L338.0,130.8 L338.4,130.6 L338.8,130.3 L339.2,130.0 L339.5,129.6 L339.9,129.3 L340.2,128.9 L340.5,128.5 L340.8,128.1 L341.1,127.7 L341.3,127.3 L341.6,126.9 L341.8,126.4 L341.9,126.2M344.4,119.0 L344.6,118.5 L344.8,118.0 L345.0,117.5 L345.2,117.1 L345.4,116.6 L345.6,116.1 L345.9,115.6 L346.1,115.2 L346.4,114.8 L346.7,114.3 L347.0,113.9 L347.3,113.5 L347.6,113.1 L348.0,112.7 L348.3,112.4 L348.3,112.4M353.9,110.2 L354.4,110.3 L354.8,110.5 L355.2,110.6 L355.6,110.9 L356.0,111.1 L356.3,111.4 L356.7,111.8 L357.0,112.1 L357.4,112.5 L357.7,112.9 L358.0,113.3 L358.3,113.7 L358.6,114.1 L358.9,114.6 L359.2,115.0 L359.4,115.5M362.7,124.0 L362.8,124.5 L362.9,125.0 L363.1,125.5 L363.2,126.0 L363.3,126.5 L363.3,127.0 L363.4,127.5 L363.5,128.0 L363.6,128.5 L363.7,129.0 L363.8,129.6 L363.8,130.1 L363.9,130.6 L364.0,131.1 L364.0,131.6 L364.1,131.7M365.1,140.2 L365.2,140.7 L365.3,141.2 L365.4,141.7 L365.4,142.2 L365.5,142.7 L365.6,143.2 L365.7,143.7 L365.8,144.2 L365.9,144.7 L366.0,145.2 L366.1,145.7 L366.2,146.2 L366.3,146.7 L366.4,147.2 L366.5,147.6 L366.6,147.9M368.7,155.9 L368.9,156.4 L369.0,156.8 L369.2,157.3 L369.3,157.8 L369.4,158.3 L369.6,158.8 L369.7,159.2 L369.9,159.7 L370.0,160.2 L370.1,160.7 L370.3,161.2 L370.4,161.7 L370.6,162.1 L370.7,162.6 L370.8,163.1 L370.9,163.4M373.0,168.6 L373.3,168.2 L373.5,167.7 L373.7,167.3 L373.9,166.8 L374.1,166.4 L374.3,165.9 L374.5,165.5 L374.6,165.0 L374.8,164.5 L375.0,164.1 L375.1,163.6 L375.3,163.1 L375.4,162.6 L375.5,162.2 L375.7,161.7 L375.8,161.4M377.5,153.4 L377.6,152.9 L377.7,152.4 L377.8,151.9 L377.8,151.5 L377.9,151.0 L378.0,150.5 L378.1,150.0 L378.2,149.5 L378.2,149.0 L378.3,148.5 L378.4,148.0 L378.5,147.5 L378.5,147.0 L378.6,146.5 L378.7,146.0 L378.7,145.7M379.9,137.0 L379.9,136.5 L380.0,136.0 L380.1,135.5 L380.1,135.0 L380.2,134.5 L380.3,134.0 L380.4,133.5 L380.4,133.0 L380.5,132.5 L380.6,132.0 L380.7,131.5 L380.7,131.0 L380.8,130.5 L380.9,130.0 L381.0,129.5 L381.0,129.3M382.9,120.2 L382.9,120.2 L383.0,119.7 L383.1,119.2 L383.2,118.7 L383.3,118.2 L383.5,117.7 L383.6,117.3 L383.7,116.8 L383.8,116.3 L383.9,115.8 L384.1,115.3 L384.2,114.8 L384.3,114.4 L384.5,113.9 L384.6,113.4 L384.7,112.9 L384.8,112.7M387.5,103.8 L387.7,103.4 L387.8,102.9 L388.0,102.4 L388.2,101.9 L388.3,101.5 L388.5,101.0 L388.7,100.5 L388.8,100.0 L389.0,99.6 L389.2,99.1 L389.3,98.6 L389.5,98.2 L389.7,97.7 L389.9,97.2 L390.0,96.8 L390.1,96.5M393.0,89.3 L393.2,88.8 L393.4,88.4 L393.6,87.9 L393.8,87.4 L394.0,87.0 L394.2,86.5 L394.4,86.1 L394.6,85.6 L394.8,85.1 L395.0,84.7 L395.2,84.2 L395.4,83.8 L395.6,83.3 L395.8,82.8 L396.0,82.4 L396.1,82.1M399.1,75.5 L399.4,75.1 L399.6,74.6 L399.8,74.2 L400.0,73.7 L400.2,73.3 L400.5,72.8 L400.7,72.4 L400.9,71.9 L401.1,71.5 L401.4,71.0 L401.6,70.6 L401.8,70.1 L402.1,69.7 L402.3,69.2 L402.5,68.8 L402.7,68.6M405.3,64.0 L405.5,63.6 L405.8,63.2 L406.1,62.8 L406.3,62.3 L406.6,61.9 L406.9,61.5 L407.1,61.1 L407.4,60.7 L407.7,60.3 L408.0,59.9 L408.3,59.5 L408.6,59.1 L408.9,58.7 L409.2,58.3 L409.5,57.9 L409.7,57.6M415.0,50.8 L415.3,50.4 L415.6,50.0 L415.9,49.6 L416.2,49.2 L416.5,48.8 L416.8,48.3 L417.0,47.9 L417.3,47.5 L417.6,47.1 L417.9,46.7 L418.2,46.3 L418.5,45.8 L418.8,45.4 L419.1,45.0 L419.3,44.6 L419.5,44.4M427.6,36.5 L428.0,36.3 L428.4,36.1 L428.9,35.9 L429.4,35.7 L429.8,35.5 L430.3,35.3 L430.7,35.2 L431.2,35.0 L431.7,34.9 L432.2,34.8 L432.7,34.7 L433.1,34.6 L433.6,34.6 L434.1,34.5 L434.6,34.5 L435.0,34.5M444.3,37.8 L444.7,38.1 L445.1,38.4 L445.5,38.7 L445.8,39.1 L446.2,39.4 L446.6,39.8 L447.0,40.1 L447.3,40.5 L447.7,40.9 L448.0,41.2 L448.4,41.6 L448.7,42.0 L449.0,42.4 L449.3,42.8 L449.7,43.2 L449.7,43.3M453.4,48.6 L453.7,49.1 L454.0,49.5 L454.2,49.9 L454.5,50.3 L454.8,50.7 L455.1,51.1 L455.3,51.6 L455.6,52.0 L455.9,52.4 L456.2,52.8 L456.5,53.2 L456.8,53.6 L457.1,54.0 L457.4,54.4 L457.7,54.8 L457.9,55.0M463.6,62.2 L463.9,62.6 L464.2,63.0 L464.5,63.4 L464.8,63.8 L465.1,64.2 L465.4,64.6 L465.7,65.0 L465.9,65.5 L466.2,65.9 L466.5,66.3 L466.8,66.7 L467.0,67.1 L467.3,67.5 L467.6,68.0 L467.8,68.4 L468.0,68.7M472.1,76.3 L472.3,76.7 L472.5,77.2 L472.7,77.6 L472.9,78.1 L473.2,78.6 L473.4,79.0 L473.6,79.5 L473.8,79.9 L474.0,80.4 L474.2,80.8 L474.4,81.3 L474.6,81.8 L474.8,82.2 L475.0,82.7 L475.2,83.1 L475.3,83.4M478.6,92.0 L478.8,92.5 L479.0,93.0 L479.2,93.4 L479.3,93.9 L479.5,94.4 L479.7,94.9 L479.9,95.3 L480.0,95.8 L480.2,96.3 L480.4,96.7 L480.6,97.2 L480.7,97.7 L480.9,98.1 L481.1,98.6 L481.3,99.1 L481.4,99.3M484.6,107.5 L484.8,107.9 L484.9,108.4 L485.1,108.9 L485.3,109.3 L485.5,109.8 L485.7,110.2 L486.0,110.7 L486.2,111.1 L486.4,111.6 L486.6,112.1 L486.8,112.5 L487.0,113.0 L487.2,113.4 L487.4,113.9 L487.6,114.3 L487.7,114.6M490.8,121.1 L491.0,121.5 L491.3,122.0 L491.5,122.4 L491.7,122.9 L491.9,123.3 L492.1,123.8 L492.3,124.2 L492.5,124.7 L492.7,125.1 L492.9,125.6 L493.1,126.1 L493.3,126.5 L493.5,127.0 L493.7,127.4 L493.9,127.9 L494.0,128.2M496.4,135.9 L496.4,136.0 L496.5,136.4 L496.7,136.9 L496.8,137.4 L496.9,137.9 L497.0,138.4 L497.1,138.9 L497.2,139.4 L497.4,139.8 L497.5,140.3 L497.6,140.8 L497.7,141.3 L497.8,141.8 L497.9,142.3 L498.0,142.8 L498.1,143.3 L498.1,143.5M499.7,151.4 L499.8,151.7 L499.9,152.2 L500.0,152.6 L500.1,153.1 L500.2,153.6 L500.3,154.1 L500.4,154.6 L500.5,155.1 L500.6,155.6 L500.7,156.1 L500.8,156.6 L500.9,157.0 L501.1,157.5 L501.2,158.0 L501.3,158.5 L501.5,158.0 L501.5,158.0M503.5,150.2 L503.7,149.8 L504.0,149.4 L504.2,148.9 L504.5,148.5 L504.8,148.1 L505.1,147.7 L505.4,147.3 L505.7,146.9 L506.0,146.5 L506.4,146.1 L506.7,145.7 L507.0,145.3 L507.3,144.9 L507.6,144.5 L507.9,144.0 L508.0,143.9M511.8,137.0 L512.0,136.5 L512.2,136.1 L512.5,135.6 L512.7,135.2 L513.0,134.8 L513.2,134.3 L513.5,133.9 L513.8,133.5 L514.1,133.1 L514.4,132.7 L514.7,132.3 L515.0,131.9 L515.4,131.5 L515.7,131.1 L516.1,130.7 L516.2,130.6M523.0,126.8 L523.5,126.7 L524.0,126.6 L524.4,126.6 L524.9,126.6 L525.4,126.6 L525.9,126.7 L526.3,126.8 L526.8,126.9 L527.2,127.1 L527.6,127.3 L528.0,127.5 L528.5,127.8 L528.9,128.1 L529.2,128.4 L529.6,128.7 L530.0,129.0 L530.1,129.1" fill="none" stroke="#0072BD" stroke-width="2.0" stroke-linejoin="round"/>
<path d="M336.0,118.0 L336.5,117.8 L337.0,117.6 L337.5,117.4 L338.0,117.2 L338.5,117.0 L339.0,116.8 L339.5,116.7 L340.0,116.5 L340.5,116.4 L340.8,116.3M348.8,117.4 L349.2,117.7 L349.6,118.0 L349.9,118.3 L350.3,118.6 L350.6,119.0 L350.9,119.4 L351.3,119.7 L351.6,120.1 L351.9,120.5 L352.2,120.9 L352.5,121.3 L352.8,121.7 L353.0,122.2 L353.3,122.6 L353.6,123.0 L353.8,123.4M357.1,131.4 L357.3,131.9 L357.4,132.4 L357.6,132.9 L357.7,133.4 L357.9,133.9 L358.0,134.3 L358.2,134.8 L358.3,135.3 L358.5,135.8 L358.6,136.3 L358.8,136.8 L358.9,137.3 L359.1,137.8 L359.2,138.2 L359.4,138.7 L359.4,138.9M362.4,146.7 L362.7,147.2 L362.9,147.6 L363.1,148.1 L363.4,148.5 L363.6,149.0 L363.9,149.4 L364.1,149.8 L364.3,150.3 L364.6,150.7 L364.8,151.2 L365.1,151.6 L365.3,152.0 L365.6,152.5 L365.8,152.9 L366.0,153.4 L366.2,153.6M367.9,157.4 L368.0,157.9 L368.2,158.3 L368.3,158.8 L368.4,159.3 L368.5,159.8 L368.7,160.3 L368.8,160.8 L368.9,161.2 L368.9,161.7 L369.0,162.2 L369.1,162.7 L369.2,163.2 L369.2,163.7 L369.3,164.2 L369.3,164.7 L369.4,165.0M370.0,173.4 L370.0,173.9 L370.1,174.4 L370.2,174.9 L370.2,175.4 L370.3,175.9 L370.3,176.4 L370.4,176.9 L370.5,177.4 L370.5,177.9 L370.6,178.4 L370.7,178.9 L370.7,179.4 L370.8,179.8 L370.9,180.3 L371.0,180.8 L371.0,181.1M372.1,189.3 L372.1,189.8 L372.1,190.3 L372.2,190.8 L372.2,191.3 L372.4,190.8 L372.5,190.3 L372.6,189.9 L372.8,189.4 L372.9,188.9 L373.1,188.4 L373.2,187.9 L373.3,187.5 L373.5,187.0 L373.6,186.5 L373.7,186.0 L373.8,185.8M376.2,174.2 L376.2,173.7 L376.3,173.3 L376.4,172.8 L376.5,172.3 L376.5,171.8 L376.6,171.3 L376.7,170.8 L376.7,170.3 L376.8,169.8 L376.8,169.3 L376.9,168.8 L377.0,168.3 L377.0,167.8 L377.1,167.3 L377.1,166.8 L377.1,166.5M377.8,156.8 L377.8,156.3 L377.8,155.8 L377.8,155.3 L377.8,154.8 L377.9,154.3 L377.9,153.8 L377.9,153.3 L377.9,152.8 L377.9,152.3 L377.9,151.8 L378.0,151.3 L378.0,150.8 L378.0,150.3 L378.0,149.8 L378.1,149.3 L378.1,149.0M379.7,139.8 L379.8,139.3 L380.0,138.9 L380.2,138.4 L380.4,137.9 L380.6,137.5 L380.8,137.0 L381.1,136.6 L381.4,136.2 L381.7,135.9 L382.0,135.6 L382.4,135.3 L382.8,135.1 L383.3,134.9 L383.8,134.8 L384.3,134.7 L384.7,134.7M388.4,133.9 L388.7,133.7 L389.0,133.4 L389.3,133.0 L389.5,132.6 L389.7,132.2 L389.9,131.7 L390.0,131.2 L390.1,130.7 L390.2,130.1 L390.3,129.6 L390.3,129.0 L390.4,128.5 L390.5,127.9 L390.5,127.3 L390.6,126.8 L390.6,126.7M393.0,116.1 L393.1,115.6 L393.2,115.1 L393.3,114.7 L393.4,114.2 L393.6,113.7 L393.7,113.2 L393.8,112.7 L393.9,112.3 L394.1,111.8 L394.2,111.3 L394.3,110.8 L394.5,110.3 L394.6,109.8 L394.7,109.4 L394.9,108.9 L395.0,108.6M397.0,101.9 L397.0,101.7 L397.2,101.2 L397.4,100.7 L397.5,100.2 L397.7,99.8 L397.8,99.3 L398.0,98.8 L398.1,98.3 L398.3,97.9 L398.5,97.4 L398.6,96.9 L398.8,96.4 L398.9,96.0 L399.1,95.5 L399.3,95.0 L399.4,94.5 L399.4,94.5M401.8,87.9 L401.9,87.5 L402.1,87.0 L402.3,86.5 L402.5,86.0 L402.6,85.6 L402.8,85.1 L403.0,84.6 L403.1,84.2 L403.3,83.7 L403.5,83.2 L403.6,82.7 L403.8,82.3 L404.0,81.8 L404.2,81.3 L404.3,80.9 L404.4,80.6M407.7,71.4 L407.7,71.4 L407.8,71.0 L408.0,70.5 L408.2,70.0 L408.3,69.5 L408.5,69.1 L408.7,68.6 L408.8,68.1 L409.0,67.7 L409.2,67.2 L409.3,66.7 L409.5,66.3 L409.7,65.8 L409.9,65.3 L410.0,64.9 L410.2,64.4 L410.3,64.1M414.0,55.1 L414.2,54.7 L414.4,54.2 L414.7,53.7 L414.9,53.3 L415.1,52.8 L415.3,52.4 L415.5,51.9 L415.8,51.5 L416.0,51.0 L416.2,50.6 L416.5,50.1 L416.7,49.7 L417.0,49.2 L417.2,48.8 L417.5,48.4 L417.6,48.2M421.1,42.9 L421.4,42.5 L421.7,42.1 L422.0,41.7 L422.3,41.4 L422.7,41.0 L423.0,40.6 L423.3,40.2 L423.7,39.9 L424.0,39.5 L424.4,39.2 L424.7,38.8 L425.1,38.5 L425.5,38.2 L425.9,37.8 L426.2,37.5 L426.5,37.3M434.1,33.5 L434.6,33.5 L435.1,33.4 L435.6,33.4 L436.1,33.5 L436.6,33.5 L437.0,33.6 L437.5,33.7 L438.0,33.9 L438.5,34.0 L439.0,34.2 L439.5,34.4 L440.0,34.6 L440.5,34.8 L440.9,35.1 L441.4,35.3 L441.6,35.4M447.5,40.0 L447.9,40.3 L448.2,40.7 L448.5,41.1 L448.9,41.5 L449.2,41.9 L449.5,42.3 L449.8,42.7 L450.1,43.1 L450.3,43.5 L450.6,43.9 L450.9,44.3 L451.2,44.7 L451.4,45.2 L451.7,45.6 L451.9,46.0 L452.0,46.3M454.4,51.4 L454.6,51.9 L454.8,52.4 L455.0,52.8 L455.2,53.3 L455.4,53.8 L455.6,54.2 L455.7,54.7 L455.9,55.2 L456.1,55.6 L456.3,56.1 L456.5,56.6 L456.6,57.0 L456.8,57.5 L457.0,58.0 L457.2,58.5 L457.3,58.7M462.0,71.1 L462.2,71.6 L462.4,72.1 L462.6,72.5 L462.7,73.0 L462.9,73.5 L463.1,73.9 L463.3,74.4 L463.4,74.9 L463.6,75.3 L463.8,75.8 L464.0,76.3 L464.1,76.8 L464.3,77.2 L464.5,77.7 L464.7,78.2 L464.8,78.4M467.8,86.6 L467.9,87.1 L468.1,87.6 L468.3,88.1 L468.4,88.5 L468.6,89.0 L468.8,89.5 L469.0,89.9 L469.1,90.4 L469.3,90.9 L469.5,91.4 L469.6,91.8 L469.8,92.3 L470.0,92.8 L470.1,93.2 L470.3,93.7 L470.4,94.0M473.0,101.4 L473.1,101.7 L473.3,102.2 L473.4,102.7 L473.6,103.2 L473.7,103.6 L473.9,104.1 L474.1,104.6 L474.2,105.1 L474.4,105.5 L474.6,106.0 L474.7,106.5 L474.9,107.0 L475.0,107.4 L475.2,107.9 L475.3,108.4 L475.5,108.8M478.0,116.3 L478.0,116.4 L478.2,116.9 L478.3,117.4 L478.5,117.9 L478.6,118.3 L478.8,118.8 L478.9,119.3 L479.1,119.8 L479.2,120.3 L479.4,120.7 L479.5,121.2 L479.7,121.7 L479.8,122.2 L480.0,122.6 L480.1,123.1 L480.3,123.6 L480.3,123.7M482.5,131.3 L482.7,131.8 L482.8,132.2 L483.0,132.7 L483.1,133.2 L483.2,133.7 L483.4,134.2 L483.5,134.7 L483.6,135.1 L483.8,135.6 L483.9,136.1 L484.0,136.6 L484.1,137.1 L484.3,137.6 L484.4,138.0 L484.5,138.5 L484.6,138.8M486.5,146.3 L486.6,146.8 L486.7,147.3 L486.8,147.8 L487.0,148.3 L487.1,148.8 L487.2,149.3 L487.3,149.8 L487.4,150.3 L487.6,150.7 L487.7,151.2 L487.9,151.7 L488.0,152.2 L488.2,152.6 L488.3,153.1 L488.5,153.6 L488.6,153.8M493.7,161.4 L494.1,161.7 L494.5,162.1 L494.8,162.5 L495.2,162.9 L495.5,163.2 L495.8,163.6 L496.2,164.0 L496.4,164.4 L496.7,164.8 L497.0,165.3 L497.2,165.7 L497.4,166.2 L497.6,166.6 L497.8,167.1 L498.0,167.6 L498.1,167.7M501.8,161.5 L501.9,161.0 L502.0,160.5 L502.1,160.0 L502.2,159.5 L502.3,159.0 L502.5,158.5 L502.6,158.0 L502.7,157.5 L502.8,157.0 L502.9,156.5 L503.1,156.0 L503.2,155.5 L503.3,155.0 L503.5,154.5 L503.6,154.0 L503.6,153.9M506.1,147.3 L506.4,146.9 L506.6,146.4 L506.8,146.0 L507.1,145.5 L507.3,145.1 L507.6,144.7 L507.9,144.2 L508.2,143.8 L508.4,143.4 L508.7,143.0 L509.0,142.6 L509.3,142.2 L509.7,141.8 L510.0,141.4 L510.3,141.0 L510.5,140.9M516.9,144.1 L517.1,144.6 L517.3,145.1 L517.4,145.6 L517.6,146.1 L517.7,146.6 L517.9,147.1 L518.1,147.6 L518.2,148.1 L518.4,148.6 L518.5,149.1 L518.7,149.6 L518.9,150.1 L519.1,150.6 L519.3,151.1 L519.4,151.4M520.9,152.3 L521.2,151.9 L521.4,151.5 L521.7,151.1 L521.9,150.7 L522.1,150.2 L522.2,149.8 L522.4,149.3 L522.6,148.9 L522.7,148.4 L522.8,147.9 L522.9,147.4 L523.0,146.9 L523.1,146.4 L523.2,145.9 L523.3,145.4 L523.4,145.0M524.5,136.8 L524.5,136.3 L524.6,135.8 L524.7,135.3 L524.7,134.7 L524.8,134.2 L524.9,133.7 L524.9,133.2 L525.0,132.7 L525.1,132.2 L525.2,131.7 L525.3,131.2 L525.3,130.7 L525.4,130.1 L525.5,129.6 L525.6,129.1 L525.6,129.1M528.3,121.2 L528.4,121.0 L528.7,120.5 L529.0,120.1 L529.3,119.8 L529.6,119.4 L529.9,119.0 L530.3,118.7 L530.6,118.3 L531.0,118.0 L531.4,117.7 L531.9,117.4 L532.3,117.2 L532.8,116.9 L533.3,116.7 L533.8,116.5 L534.2,116.3" fill="none" stroke="#D95319" stroke-width="2.0" stroke-linejoin="round"/>
</g>
<g stroke="#555" stroke-width="1.0" fill="none">
<rect x="336.0" y="15.5" width="198.20000000000005" height="226.3"/>
<path d="M435.10,241.8v-2.2M435.10,15.5v2.2"/>
<path d="M336.0,47.83h2.2M534.2,47.83h-2.2"/>
<path d="M336.0,80.16h2.2M534.2,80.16h-2.2"/>
<path d="M336.0,112.49h2.2M534.2,112.49h-2.2"/>
<path d="M336.0,144.81h2.2M534.2,144.81h-2.2"/>
<path d="M336.0,177.14h2.2M534.2,177.14h-2.2"/>
<path d="M336.0,209.47h2.2M534.2,209.47h-2.2"/>
</g>
<text class="t" x="336.00" y="257.7" text-anchor="middle">-180</text>
<text class="t" x="435.10" y="257.7" text-anchor="middle">0</text>
<text class="t" x="534.20" y="257.7" text-anchor="middle">180</text>
<text class="t" x="332.6" y="20.20" text-anchor="end">5</text>
<text class="t" x="332.6" y="52.53" text-anchor="end">0</text>
<text class="t" x="332.6" y="84.86" text-anchor="end">-5</text>
<text class="t" x="332.6" y="117.19" text-anchor="end">-10</text>
<text class="t" x="332.6" y="149.51" text-anchor="end">-15</text>
<text class="t" x="332.6" y="181.84" text-anchor="end">-20</text>
<text class="t" x="332.6" y="214.17" text-anchor="end">-25</text>
<text class="t" x="332.6" y="246.50" text-anchor="end">-30</text>
<text class="l" transform="translate(310.3,130.8) rotate(-90)" text-anchor="middle" style="font-size:13.5px">Magnitude(dBi)</text>
<text class="l" x="435.2" y="272.1" text-anchor="middle" style="font-size:13.1px"><tspan font-style="italic" font-weight="normal">θ</tspan>(deg)</text>
<text class="c" x="426" y="295.7" text-anchor="middle">(b)</text>
<path d="M382.2,181.9H402.1" stroke="#0072BD" stroke-width="2.0"/>
<text class="g" x="405.6" y="186.2">Sim.(E−plane)</text>
<path d="M382.2,196.7H402.1" stroke="#D95319" stroke-width="2.0"/>
<text class="g" x="405.6" y="201.0">Sim.(H−plane)</text>
<path d="M382.2,211.6H402.1" stroke="#0072BD" stroke-width="2.0" stroke-dasharray="8.2 8.2"/>
<text class="g" x="405.6" y="215.9">Mea.(E−plane)</text>
<path d="M382.2,226.4H402.1" stroke="#D95319" stroke-width="2.0" stroke-dasharray="8.2 8.2"/>
<text class="g" x="405.6" y="230.7">Mea.(H−plane)</text>
</svg></body></html>
